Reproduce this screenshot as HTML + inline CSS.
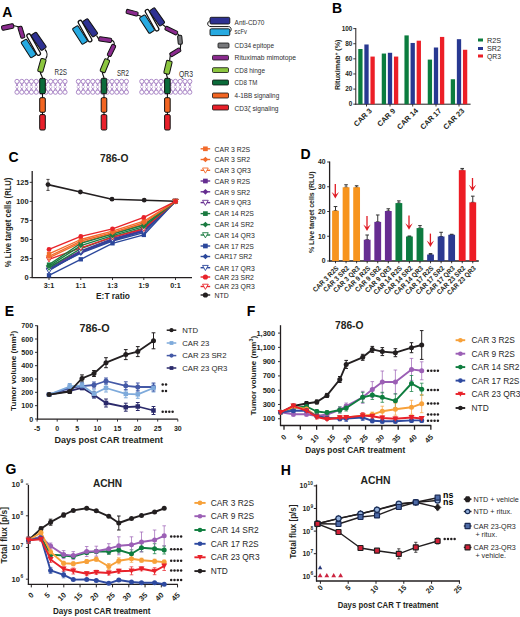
<!DOCTYPE html>
<html><head><meta charset="utf-8"><style>
html,body{margin:0;padding:0;background:#fff;}
svg{display:block;}
text{font-family:"Liberation Sans",sans-serif;}
</style></head><body>
<svg width="520" height="617" viewBox="0 0 520 617">
<rect width="520" height="617" fill="#fff"/>
<g fill="none" stroke="#a883c4" stroke-width="0.95"><circle cx="17" cy="81.4" r="2.1"/><path d="M15.8,83.4 L18.2,86.4 M18.2,83.4 L15.8,86.4"/><circle cx="17" cy="92.2" r="2.1"/><path d="M15.8,90.2 L18.2,87.4 M18.2,90.2 L15.8,87.4"/><circle cx="21.8" cy="81.4" r="2.1"/><path d="M20.6,83.4 L23,86.4 M23,83.4 L20.6,86.4"/><circle cx="21.8" cy="92.2" r="2.1"/><path d="M20.6,90.2 L23,87.4 M23,90.2 L20.6,87.4"/><circle cx="26.6" cy="81.4" r="2.1"/><path d="M25.4,83.4 L27.8,86.4 M27.8,83.4 L25.4,86.4"/><circle cx="26.6" cy="92.2" r="2.1"/><path d="M25.4,90.2 L27.8,87.4 M27.8,90.2 L25.4,87.4"/><circle cx="31.4" cy="81.4" r="2.1"/><path d="M30.2,83.4 L32.6,86.4 M32.6,83.4 L30.2,86.4"/><circle cx="31.4" cy="92.2" r="2.1"/><path d="M30.2,90.2 L32.6,87.4 M32.6,90.2 L30.2,87.4"/><circle cx="36.2" cy="81.4" r="2.1"/><path d="M35,83.4 L37.4,86.4 M37.4,83.4 L35,86.4"/><circle cx="36.2" cy="92.2" r="2.1"/><path d="M35,90.2 L37.4,87.4 M37.4,90.2 L35,87.4"/><circle cx="41" cy="81.4" r="2.1"/><path d="M39.8,83.4 L42.2,86.4 M42.2,83.4 L39.8,86.4"/><circle cx="41" cy="92.2" r="2.1"/><path d="M39.8,90.2 L42.2,87.4 M42.2,90.2 L39.8,87.4"/><circle cx="45.8" cy="81.4" r="2.1"/><path d="M44.6,83.4 L47,86.4 M47,83.4 L44.6,86.4"/><circle cx="45.8" cy="92.2" r="2.1"/><path d="M44.6,90.2 L47,87.4 M47,90.2 L44.6,87.4"/><circle cx="50.6" cy="81.4" r="2.1"/><path d="M49.4,83.4 L51.8,86.4 M51.8,83.4 L49.4,86.4"/><circle cx="50.6" cy="92.2" r="2.1"/><path d="M49.4,90.2 L51.8,87.4 M51.8,90.2 L49.4,87.4"/><circle cx="55.4" cy="81.4" r="2.1"/><path d="M54.2,83.4 L56.6,86.4 M56.6,83.4 L54.2,86.4"/><circle cx="55.4" cy="92.2" r="2.1"/><path d="M54.2,90.2 L56.6,87.4 M56.6,90.2 L54.2,87.4"/><circle cx="60.2" cy="81.4" r="2.1"/><path d="M59,83.4 L61.4,86.4 M61.4,83.4 L59,86.4"/><circle cx="60.2" cy="92.2" r="2.1"/><path d="M59,90.2 L61.4,87.4 M61.4,90.2 L59,87.4"/><circle cx="65" cy="81.4" r="2.1"/><path d="M63.8,83.4 L66.2,86.4 M66.2,83.4 L63.8,86.4"/><circle cx="65" cy="92.2" r="2.1"/><path d="M63.8,90.2 L66.2,87.4 M66.2,90.2 L63.8,87.4"/></g>
<g fill="none" stroke="#a883c4" stroke-width="0.95"><circle cx="78.4" cy="81.4" r="2.1"/><path d="M77.2,83.4 L79.6,86.4 M79.6,83.4 L77.2,86.4"/><circle cx="78.4" cy="92.2" r="2.1"/><path d="M77.2,90.2 L79.6,87.4 M79.6,90.2 L77.2,87.4"/><circle cx="83.2" cy="81.4" r="2.1"/><path d="M82,83.4 L84.4,86.4 M84.4,83.4 L82,86.4"/><circle cx="83.2" cy="92.2" r="2.1"/><path d="M82,90.2 L84.4,87.4 M84.4,90.2 L82,87.4"/><circle cx="88" cy="81.4" r="2.1"/><path d="M86.8,83.4 L89.2,86.4 M89.2,83.4 L86.8,86.4"/><circle cx="88" cy="92.2" r="2.1"/><path d="M86.8,90.2 L89.2,87.4 M89.2,90.2 L86.8,87.4"/><circle cx="92.8" cy="81.4" r="2.1"/><path d="M91.6,83.4 L94,86.4 M94,83.4 L91.6,86.4"/><circle cx="92.8" cy="92.2" r="2.1"/><path d="M91.6,90.2 L94,87.4 M94,90.2 L91.6,87.4"/><circle cx="97.6" cy="81.4" r="2.1"/><path d="M96.4,83.4 L98.8,86.4 M98.8,83.4 L96.4,86.4"/><circle cx="97.6" cy="92.2" r="2.1"/><path d="M96.4,90.2 L98.8,87.4 M98.8,90.2 L96.4,87.4"/><circle cx="102.4" cy="81.4" r="2.1"/><path d="M101.2,83.4 L103.6,86.4 M103.6,83.4 L101.2,86.4"/><circle cx="102.4" cy="92.2" r="2.1"/><path d="M101.2,90.2 L103.6,87.4 M103.6,90.2 L101.2,87.4"/><circle cx="107.2" cy="81.4" r="2.1"/><path d="M106,83.4 L108.4,86.4 M108.4,83.4 L106,86.4"/><circle cx="107.2" cy="92.2" r="2.1"/><path d="M106,90.2 L108.4,87.4 M108.4,90.2 L106,87.4"/><circle cx="112" cy="81.4" r="2.1"/><path d="M110.8,83.4 L113.2,86.4 M113.2,83.4 L110.8,86.4"/><circle cx="112" cy="92.2" r="2.1"/><path d="M110.8,90.2 L113.2,87.4 M113.2,90.2 L110.8,87.4"/><circle cx="116.8" cy="81.4" r="2.1"/><path d="M115.6,83.4 L118,86.4 M118,83.4 L115.6,86.4"/><circle cx="116.8" cy="92.2" r="2.1"/><path d="M115.6,90.2 L118,87.4 M118,90.2 L115.6,87.4"/><circle cx="121.6" cy="81.4" r="2.1"/><path d="M120.4,83.4 L122.8,86.4 M122.8,83.4 L120.4,86.4"/><circle cx="121.6" cy="92.2" r="2.1"/><path d="M120.4,90.2 L122.8,87.4 M122.8,90.2 L120.4,87.4"/><circle cx="126.4" cy="81.4" r="2.1"/><path d="M125.2,83.4 L127.6,86.4 M127.6,83.4 L125.2,86.4"/><circle cx="126.4" cy="92.2" r="2.1"/><path d="M125.2,90.2 L127.6,87.4 M127.6,90.2 L125.2,87.4"/></g>
<g fill="none" stroke="#a883c4" stroke-width="0.95"><circle cx="141.8" cy="81.4" r="2.1"/><path d="M140.6,83.4 L143,86.4 M143,83.4 L140.6,86.4"/><circle cx="141.8" cy="92.2" r="2.1"/><path d="M140.6,90.2 L143,87.4 M143,90.2 L140.6,87.4"/><circle cx="146.6" cy="81.4" r="2.1"/><path d="M145.4,83.4 L147.8,86.4 M147.8,83.4 L145.4,86.4"/><circle cx="146.6" cy="92.2" r="2.1"/><path d="M145.4,90.2 L147.8,87.4 M147.8,90.2 L145.4,87.4"/><circle cx="151.4" cy="81.4" r="2.1"/><path d="M150.2,83.4 L152.6,86.4 M152.6,83.4 L150.2,86.4"/><circle cx="151.4" cy="92.2" r="2.1"/><path d="M150.2,90.2 L152.6,87.4 M152.6,90.2 L150.2,87.4"/><circle cx="156.2" cy="81.4" r="2.1"/><path d="M155,83.4 L157.4,86.4 M157.4,83.4 L155,86.4"/><circle cx="156.2" cy="92.2" r="2.1"/><path d="M155,90.2 L157.4,87.4 M157.4,90.2 L155,87.4"/><circle cx="161" cy="81.4" r="2.1"/><path d="M159.8,83.4 L162.2,86.4 M162.2,83.4 L159.8,86.4"/><circle cx="161" cy="92.2" r="2.1"/><path d="M159.8,90.2 L162.2,87.4 M162.2,90.2 L159.8,87.4"/><circle cx="165.8" cy="81.4" r="2.1"/><path d="M164.6,83.4 L167,86.4 M167,83.4 L164.6,86.4"/><circle cx="165.8" cy="92.2" r="2.1"/><path d="M164.6,90.2 L167,87.4 M167,90.2 L164.6,87.4"/><circle cx="170.6" cy="81.4" r="2.1"/><path d="M169.4,83.4 L171.8,86.4 M171.8,83.4 L169.4,86.4"/><circle cx="170.6" cy="92.2" r="2.1"/><path d="M169.4,90.2 L171.8,87.4 M171.8,90.2 L169.4,87.4"/><circle cx="175.4" cy="81.4" r="2.1"/><path d="M174.2,83.4 L176.6,86.4 M176.6,83.4 L174.2,86.4"/><circle cx="175.4" cy="92.2" r="2.1"/><path d="M174.2,90.2 L176.6,87.4 M176.6,90.2 L174.2,87.4"/><circle cx="180.2" cy="81.4" r="2.1"/><path d="M179,83.4 L181.4,86.4 M181.4,83.4 L179,86.4"/><circle cx="180.2" cy="92.2" r="2.1"/><path d="M179,90.2 L181.4,87.4 M181.4,90.2 L179,87.4"/><circle cx="185" cy="81.4" r="2.1"/><path d="M183.8,83.4 L186.2,86.4 M186.2,83.4 L183.8,86.4"/><circle cx="185" cy="92.2" r="2.1"/><path d="M183.8,90.2 L186.2,87.4 M186.2,90.2 L183.8,87.4"/><circle cx="189.8" cy="81.4" r="2.1"/><path d="M188.6,83.4 L191,86.4 M191,83.4 L188.6,86.4"/><circle cx="189.8" cy="92.2" r="2.1"/><path d="M188.6,90.2 L191,87.4 M191,90.2 L188.6,87.4"/></g>
<path d="M13,25.5 L19.5,27 M45,49.5 C47.5,52 47.5,56 45.8,58.8 M40.2,71.4 C40.5,75 42.5,76 42.5,78.5" fill="none" stroke="#111" stroke-width="1.15"/>
<line x1="42.5" y1="78" x2="42.5" y2="122" stroke="#111" stroke-width="1.1"/>
<rect x="-7.7" y="-2.8" width="15.4" height="5.6" rx="1.3" fill="#0b6b3a" stroke="#111" stroke-width="1" transform="translate(42.5 86) rotate(90)"/>
<rect x="-7.3" y="-2.8" width="14.6" height="5.6" rx="1.3" fill="#f26522" stroke="#111" stroke-width="1" transform="translate(42.5 105) rotate(90)"/>
<rect x="-7.7" y="-2.8" width="15.4" height="5.6" rx="1.3" fill="#e8202a" stroke="#111" stroke-width="1" transform="translate(42.5 122.3) rotate(90)"/>
<rect x="-12" y="-1.9" width="24" height="3.8" rx="1.9" fill="#fff" stroke="#111" stroke-width="1.25" transform="translate(33.65 44.6) rotate(61)"/>
<rect x="-9.3" y="-3.3" width="18.6" height="6.6" rx="1.3" fill="#27aae1" stroke="#111" stroke-width="1" transform="translate(28.6 48.5) rotate(57)"/>
<rect x="-9.3" y="-3.2" width="18.6" height="6.4" rx="1.3" fill="#2e3192" stroke="#111" stroke-width="1" transform="translate(38.7 41.3) rotate(55)"/>
<rect x="-6.1" y="-2.2" width="12.2" height="4.4" rx="1.3" fill="#8a2a8e" stroke="#111" stroke-width="1" transform="translate(7.7 27) rotate(-12)"/>
<rect x="-6" y="-2.1" width="12" height="4.2" rx="1.3" fill="#8a2a8e" stroke="#111" stroke-width="1" transform="translate(21.4 32.2) rotate(73)"/>
<rect x="-6.7" y="-2.7" width="13.4" height="5.4" rx="1.3" fill="#8cc63f" stroke="#111" stroke-width="1" transform="translate(41.9 65.4) rotate(-74)"/>
<path d="M96.5,35.5 L98.6,39 M111.8,40.3 C113.5,41 114.5,43 114.2,44.8 M108.8,56 L107.5,59.4 M102.3,72 C102.5,75 104,76 104,78.5" fill="none" stroke="#111" stroke-width="1.15"/>
<line x1="104" y1="78" x2="104" y2="122" stroke="#111" stroke-width="1.1"/>
<rect x="-7.7" y="-2.8" width="15.4" height="5.6" rx="1.3" fill="#0b6b3a" stroke="#111" stroke-width="1" transform="translate(104 86) rotate(90)"/>
<rect x="-7.3" y="-2.8" width="14.6" height="5.6" rx="1.3" fill="#f26522" stroke="#111" stroke-width="1" transform="translate(104 105) rotate(90)"/>
<rect x="-7.7" y="-2.8" width="15.4" height="5.6" rx="1.3" fill="#e8202a" stroke="#111" stroke-width="1" transform="translate(104 122.3) rotate(90)"/>
<rect x="-12" y="-1.9" width="24" height="3.8" rx="1.9" fill="#fff" stroke="#111" stroke-width="1.25" transform="translate(85.05 31.1) rotate(61)"/>
<rect x="-9.3" y="-3.3" width="18.6" height="6.6" rx="1.3" fill="#27aae1" stroke="#111" stroke-width="1" transform="translate(80 35) rotate(57)"/>
<rect x="-9.3" y="-3.2" width="18.6" height="6.4" rx="1.3" fill="#2e3192" stroke="#111" stroke-width="1" transform="translate(90.1 27.8) rotate(55)"/>
<rect x="-6.5" y="-2.1" width="13" height="4.2" rx="1.3" fill="#8a2a8e" stroke="#111" stroke-width="1" transform="translate(105.2 39.6) rotate(8)"/>
<rect x="-6.2" y="-2.1" width="12.4" height="4.2" rx="1.3" fill="#8a2a8e" stroke="#111" stroke-width="1" transform="translate(111.5 50.4) rotate(-64)"/>
<rect x="-6.8" y="-2.7" width="13.6" height="5.4" rx="1.3" fill="#8cc63f" stroke="#111" stroke-width="1" transform="translate(104.9 65.7) rotate(-67.6)"/>
<path d="M137.5,15 L141.6,16.5 M162.3,24.4 L165.5,26.8 M177.5,33.6 L179.2,35.5 M180.7,44.3 L180.3,49.2 M170.3,55.4 L169.6,60.8 M166.5,73.8 C166.5,76 167.4,76.5 167.4,78.5" fill="none" stroke="#111" stroke-width="1.15"/>
<line x1="167.4" y1="78" x2="167.4" y2="122" stroke="#111" stroke-width="1.1"/>
<rect x="-7.7" y="-2.8" width="15.4" height="5.6" rx="1.3" fill="#0b6b3a" stroke="#111" stroke-width="1" transform="translate(167.4 86) rotate(90)"/>
<rect x="-7.3" y="-2.8" width="14.6" height="5.6" rx="1.3" fill="#f26522" stroke="#111" stroke-width="1" transform="translate(167.4 105) rotate(90)"/>
<rect x="-7.7" y="-2.8" width="15.4" height="5.6" rx="1.3" fill="#e8202a" stroke="#111" stroke-width="1" transform="translate(167.4 122.3) rotate(90)"/>
<rect x="-12" y="-1.9" width="24" height="3.8" rx="1.9" fill="#fff" stroke="#111" stroke-width="1.25" transform="translate(152.05 20.2) rotate(61)"/>
<rect x="-9.3" y="-3.3" width="18.6" height="6.6" rx="1.3" fill="#27aae1" stroke="#111" stroke-width="1" transform="translate(147 24.1) rotate(57)"/>
<rect x="-9.3" y="-3.2" width="18.6" height="6.4" rx="1.3" fill="#2e3192" stroke="#111" stroke-width="1" transform="translate(157.1 16.9) rotate(55)"/>
<rect x="-6" y="-2.1" width="12" height="4.2" rx="1.3" fill="#8a2a8e" stroke="#111" stroke-width="1" transform="translate(132.1 12.7) rotate(15)"/>
<rect x="-6.65" y="-2" width="13.3" height="4" rx="1.3" fill="#8a2a8e" stroke="#111" stroke-width="1" transform="translate(171.3 30.6) rotate(25.8)"/>
<rect x="-4.5" y="-2.1" width="9" height="4.2" rx="1.3" fill="#77787b" stroke="#111" stroke-width="1" transform="translate(180 39.8) rotate(85)"/>
<rect x="-5.9" y="-2" width="11.8" height="4" rx="1.3" fill="#8a2a8e" stroke="#111" stroke-width="1" transform="translate(175.3 52.3) rotate(-32)"/>
<rect x="-6.7" y="-2.9" width="13.4" height="5.8" rx="1.3" fill="#8cc63f" stroke="#111" stroke-width="1" transform="translate(168 67.3) rotate(-76.6)"/>
<text x="2.3" y="17" font-size="14" fill="#000" font-weight="bold" >A</text>
<text x="54.6" y="75" font-size="8.2" fill="#2e2e30" textLength="12.4" lengthAdjust="spacingAndGlyphs" >R2S</text>
<text x="117" y="76" font-size="8.2" fill="#2e2e30" textLength="12" lengthAdjust="spacingAndGlyphs" >SR2</text>
<text x="179" y="77" font-size="8.2" fill="#2e2e30" textLength="14" lengthAdjust="spacingAndGlyphs" >QR3</text>
<path d="M211.5,20.6 C206.5,20.6 206.5,26.6 211,26.6 L228.5,26.6 C232,26.6 232,32.2 228.5,32.2" fill="none" stroke="#111" stroke-width="1"/>
<rect x="210" y="17.3" width="19.8" height="6.7" fill="#2e3192" stroke="#111" stroke-width="0.9" rx="1.3"/>
<rect x="210" y="28.8" width="19.8" height="6.8" fill="#27aae1" stroke="#111" stroke-width="0.9" rx="1.3"/>
<rect x="218" y="43" width="11" height="5" fill="#77787b" stroke="#111" stroke-width="0.8" rx="1"/>
<rect x="212.5" y="55.4" width="16" height="4.6" fill="#8a2a8e" stroke="#111" stroke-width="0.8" rx="1"/>
<rect x="212.5" y="67.7" width="16" height="4.8" fill="#8cc63f" stroke="#111" stroke-width="0.8" rx="1"/>
<rect x="212.5" y="80" width="16" height="5" fill="#0b6b3a" stroke="#111" stroke-width="0.8" rx="1"/>
<rect x="212.5" y="93" width="16" height="5" fill="#f26522" stroke="#111" stroke-width="0.8" rx="1"/>
<rect x="212.5" y="105" width="16" height="5" fill="#e8202a" stroke="#111" stroke-width="0.8" rx="1"/>
<text x="234.6" y="25" font-size="7.8" fill="#2e2e30" textLength="29.8" lengthAdjust="spacingAndGlyphs" >Anti-CD70</text>
<text x="234.6" y="33.6" font-size="7.8" fill="#2e2e30" textLength="12.4" lengthAdjust="spacingAndGlyphs" >scFv</text>
<text x="234.6" y="48" font-size="7.8" fill="#2e2e30" textLength="39.4" lengthAdjust="spacingAndGlyphs" >CD34 epitope</text>
<text x="234.6" y="60" font-size="7.8" fill="#2e2e30" textLength="61.4" lengthAdjust="spacingAndGlyphs" >Rituximab mimotope</text>
<text x="234.6" y="72.5" font-size="7.8" fill="#2e2e30" textLength="30.4" lengthAdjust="spacingAndGlyphs" >CD8 hinge</text>
<text x="234.6" y="85.2" font-size="7.8" fill="#2e2e30" textLength="22.7" lengthAdjust="spacingAndGlyphs" >CD8 TM</text>
<text x="234.6" y="98" font-size="7.8" fill="#2e2e30" textLength="44.6" lengthAdjust="spacingAndGlyphs" >4-1BB signaling</text>
<text x="234.6" y="110.5" font-size="7.8" fill="#2e2e30" textLength="43.9" lengthAdjust="spacingAndGlyphs" >CD3&#950; signaling</text>
<text x="332" y="12.5" font-size="14" fill="#000" font-weight="bold" >B</text>
<line x1="355.8" y1="28" x2="355.8" y2="104.6" stroke="#231f20" stroke-width="1"/>
<line x1="355.3" y1="104.2" x2="470.6" y2="104.2" stroke="#231f20" stroke-width="1"/>
<line x1="353.3" y1="104.2" x2="355.8" y2="104.2" stroke="#231f20" stroke-width="0.9"/>
<text x="352.4" y="106.4" font-size="6.4" fill="#231f20" font-weight="bold" text-anchor="end" >0</text>
<line x1="353.3" y1="89.08" x2="355.8" y2="89.08" stroke="#231f20" stroke-width="0.9"/>
<text x="352.4" y="91.28" font-size="6.4" fill="#231f20" font-weight="bold" text-anchor="end" >20</text>
<line x1="353.3" y1="73.96" x2="355.8" y2="73.96" stroke="#231f20" stroke-width="0.9"/>
<text x="352.4" y="76.16" font-size="6.4" fill="#231f20" font-weight="bold" text-anchor="end" >40</text>
<line x1="353.3" y1="58.84" x2="355.8" y2="58.84" stroke="#231f20" stroke-width="0.9"/>
<text x="352.4" y="61.04" font-size="6.4" fill="#231f20" font-weight="bold" text-anchor="end" >60</text>
<line x1="353.3" y1="43.72" x2="355.8" y2="43.72" stroke="#231f20" stroke-width="0.9"/>
<text x="352.4" y="45.92" font-size="6.4" fill="#231f20" font-weight="bold" text-anchor="end" >80</text>
<line x1="353.3" y1="28.6" x2="355.8" y2="28.6" stroke="#231f20" stroke-width="0.9"/>
<text x="352.4" y="30.8" font-size="6.4" fill="#231f20" font-weight="bold" text-anchor="end" >100</text>
<text x="340.3" y="64.8" font-size="7.2" fill="#231f20" font-weight="bold" text-anchor="middle" transform="rotate(-90 340.3 64.8)" >Rituximab<tspan dy="-2.5" font-size="4.5">+</tspan><tspan dy="2.5"> (%)</tspan></text>
<rect x="358.25" y="49.01" width="4.3" height="55.19" fill="#0b7c3e" stroke="none" stroke-width="0" rx="0"/>
<rect x="364.35" y="44.48" width="4.3" height="59.72" fill="#283891" stroke="none" stroke-width="0" rx="0"/>
<rect x="370.45" y="56.57" width="4.3" height="47.63" fill="#ec1f27" stroke="none" stroke-width="0" rx="0"/>
<line x1="366.5" y1="104.2" x2="366.5" y2="106.5" stroke="#231f20" stroke-width="0.9"/>
<text x="372.4" y="111.3" font-size="7.4" fill="#231f20" font-weight="bold" text-anchor="end" transform="rotate(-45 372.4 111.3)" >CAR 3</text>
<rect x="381.75" y="53.55" width="4.3" height="50.65" fill="#0b7c3e" stroke="none" stroke-width="0" rx="0"/>
<rect x="387.85" y="52.79" width="4.3" height="51.41" fill="#283891" stroke="none" stroke-width="0" rx="0"/>
<rect x="393.95" y="56.57" width="4.3" height="47.63" fill="#ec1f27" stroke="none" stroke-width="0" rx="0"/>
<line x1="390" y1="104.2" x2="390" y2="106.5" stroke="#231f20" stroke-width="0.9"/>
<text x="395.9" y="111.3" font-size="7.4" fill="#231f20" font-weight="bold" text-anchor="end" transform="rotate(-45 395.9 111.3)" >CAR 9</text>
<rect x="404.45" y="35.4" width="4.3" height="68.8" fill="#0b7c3e" stroke="none" stroke-width="0" rx="0"/>
<rect x="410.55" y="42.96" width="4.3" height="61.24" fill="#283891" stroke="none" stroke-width="0" rx="0"/>
<rect x="416.65" y="40.7" width="4.3" height="63.5" fill="#ec1f27" stroke="none" stroke-width="0" rx="0"/>
<line x1="412.7" y1="104.2" x2="412.7" y2="106.5" stroke="#231f20" stroke-width="0.9"/>
<text x="418.6" y="111.3" font-size="7.4" fill="#231f20" font-weight="bold" text-anchor="end" transform="rotate(-45 418.6 111.3)" >CAR 14</text>
<rect x="427.75" y="59.6" width="4.3" height="44.6" fill="#0b7c3e" stroke="none" stroke-width="0" rx="0"/>
<rect x="433.85" y="47.5" width="4.3" height="56.7" fill="#283891" stroke="none" stroke-width="0" rx="0"/>
<rect x="439.95" y="36.92" width="4.3" height="67.28" fill="#ec1f27" stroke="none" stroke-width="0" rx="0"/>
<line x1="436" y1="104.2" x2="436" y2="106.5" stroke="#231f20" stroke-width="0.9"/>
<text x="441.9" y="111.3" font-size="7.4" fill="#231f20" font-weight="bold" text-anchor="end" transform="rotate(-45 441.9 111.3)" >CAR 17</text>
<rect x="450.75" y="79.25" width="4.3" height="24.95" fill="#0b7c3e" stroke="none" stroke-width="0" rx="0"/>
<rect x="456.85" y="39.18" width="4.3" height="65.02" fill="#283891" stroke="none" stroke-width="0" rx="0"/>
<rect x="462.95" y="49.77" width="4.3" height="54.43" fill="#ec1f27" stroke="none" stroke-width="0" rx="0"/>
<line x1="459" y1="104.2" x2="459" y2="106.5" stroke="#231f20" stroke-width="0.9"/>
<text x="464.9" y="111.3" font-size="7.4" fill="#231f20" font-weight="bold" text-anchor="end" transform="rotate(-45 464.9 111.3)" >CAR 23</text>
<rect x="478" y="38.5" width="5" height="3" fill="#0b7c3e" stroke="none" stroke-width="0" rx="0"/>
<text x="487" y="42.5" font-size="7.4" fill="#282828" textLength="14" lengthAdjust="spacingAndGlyphs" >R2S</text>
<rect x="478" y="47" width="5" height="3" fill="#283891" stroke="none" stroke-width="0" rx="0"/>
<text x="487" y="51" font-size="7.4" fill="#282828" textLength="14" lengthAdjust="spacingAndGlyphs" >SR2</text>
<rect x="478" y="54.5" width="5" height="3" fill="#ec1f27" stroke="none" stroke-width="0" rx="0"/>
<text x="487" y="58.5" font-size="7.4" fill="#282828" textLength="14" lengthAdjust="spacingAndGlyphs" >QR3</text>
<text x="8.6" y="162" font-size="14" fill="#000" font-weight="bold" >C</text>
<text x="100" y="161.5" font-size="10.4" fill="#231f20" font-weight="bold" textLength="28.5" lengthAdjust="spacingAndGlyphs" >786-O</text>
<line x1="32.2" y1="171" x2="32.2" y2="278.1" stroke="#231f20" stroke-width="1.3"/>
<line x1="31.7" y1="277.6" x2="192" y2="277.6" stroke="#231f20" stroke-width="1.3"/>
<line x1="29.7" y1="277.6" x2="32.2" y2="277.6" stroke="#231f20" stroke-width="0.9"/>
<text x="28.6" y="280.2" font-size="7.4" fill="#231f20" font-weight="bold" text-anchor="end" >0</text>
<line x1="29.7" y1="258.55" x2="32.2" y2="258.55" stroke="#231f20" stroke-width="0.9"/>
<text x="28.6" y="261.15" font-size="7.4" fill="#231f20" font-weight="bold" text-anchor="end" >25</text>
<line x1="29.7" y1="239.5" x2="32.2" y2="239.5" stroke="#231f20" stroke-width="0.9"/>
<text x="28.6" y="242.1" font-size="7.4" fill="#231f20" font-weight="bold" text-anchor="end" >50</text>
<line x1="29.7" y1="220.45" x2="32.2" y2="220.45" stroke="#231f20" stroke-width="0.9"/>
<text x="28.6" y="223.05" font-size="7.4" fill="#231f20" font-weight="bold" text-anchor="end" >75</text>
<line x1="29.7" y1="201.4" x2="32.2" y2="201.4" stroke="#231f20" stroke-width="0.9"/>
<text x="28.6" y="204" font-size="7.4" fill="#231f20" font-weight="bold" text-anchor="end" >100</text>
<line x1="29.7" y1="182.35" x2="32.2" y2="182.35" stroke="#231f20" stroke-width="0.9"/>
<text x="28.6" y="184.95" font-size="7.4" fill="#231f20" font-weight="bold" text-anchor="end" >125</text>
<line x1="49" y1="277.6" x2="49" y2="280" stroke="#231f20" stroke-width="0.9"/>
<text x="49" y="288" font-size="7.2" fill="#231f20" font-weight="bold" text-anchor="middle" >3:1</text>
<line x1="80.8" y1="277.6" x2="80.8" y2="280" stroke="#231f20" stroke-width="0.9"/>
<text x="80.8" y="288" font-size="7.2" fill="#231f20" font-weight="bold" text-anchor="middle" >1:1</text>
<line x1="112.5" y1="277.6" x2="112.5" y2="280" stroke="#231f20" stroke-width="0.9"/>
<text x="112.5" y="288" font-size="7.2" fill="#231f20" font-weight="bold" text-anchor="middle" >1:3</text>
<line x1="143.8" y1="277.6" x2="143.8" y2="280" stroke="#231f20" stroke-width="0.9"/>
<text x="143.8" y="288" font-size="7.2" fill="#231f20" font-weight="bold" text-anchor="middle" >1:9</text>
<line x1="175.5" y1="277.6" x2="175.5" y2="280" stroke="#231f20" stroke-width="0.9"/>
<text x="175.5" y="288" font-size="7.2" fill="#231f20" font-weight="bold" text-anchor="middle" >0:1</text>
<text x="113" y="298.5" font-size="8.6" fill="#231f20" font-weight="bold" text-anchor="middle" textLength="34" lengthAdjust="spacingAndGlyphs" >E:T ratio</text>
<text x="10.9" y="222.4" font-size="8.2" fill="#231f20" font-weight="bold" text-anchor="middle" textLength="89.6" lengthAdjust="spacingAndGlyphs" transform="rotate(-90 10.9 222.4)" >% Live target cells (RLU)</text>
<path d="M48,179.4V190.4M46.4,179.4H49.6M46.4,190.4H49.6" stroke="#231f20" stroke-width="0.8" fill="none"/>
<polyline points="48,184.6 80.4,192 112,199.2 144.2,200.2 175.6,201.2" fill="none" stroke="#231f20" stroke-width="1.6" stroke-linejoin="round"/>
<circle cx="48" cy="184.6" r="2.4" fill="#231f20"/>
<circle cx="80.4" cy="192" r="2.4" fill="#231f20"/>
<circle cx="112" cy="199.2" r="2.4" fill="#231f20"/>
<circle cx="144.2" cy="200.2" r="2.4" fill="#231f20"/>
<circle cx="175.6" cy="201.2" r="2.4" fill="#231f20"/>
<polyline points="49,275.31 80.8,259.31 112.5,243.31 143.8,234.93 175.5,201.4" fill="none" stroke="#2b479b" stroke-width="1.35" stroke-linejoin="round"/>
<polyline points="49,269.98 80.8,252.45 112.5,240.26 143.8,231.12 175.5,201.4" fill="none" stroke="#652d90" stroke-width="1.35" stroke-linejoin="round"/>
<polyline points="49,268.46 80.8,251.69 112.5,239.5 143.8,230.36 175.5,201.4" fill="none" stroke="#652d90" stroke-width="1.35" stroke-linejoin="round"/>
<polyline points="49,269.22 80.8,253.22 112.5,241.02 143.8,232.64 175.5,201.4" fill="none" stroke="#2b479b" stroke-width="1.35" stroke-linejoin="round"/>
<polyline points="49,266.93 80.8,250.93 112.5,238.74 143.8,229.59 175.5,201.4" fill="none" stroke="#652d90" stroke-width="1.35" stroke-linejoin="round"/>
<polyline points="49,270.74 80.8,251.69 112.5,239.5 143.8,231.12 175.5,201.4" fill="none" stroke="#2b479b" stroke-width="1.35" stroke-linejoin="round"/>
<polyline points="49,267.69 80.8,248.64 112.5,237.21 143.8,228.07 175.5,201.4" fill="none" stroke="#1a7a40" stroke-width="1.35" stroke-linejoin="round"/>
<polyline points="49,259.31 80.8,247.88 112.5,237.21 143.8,228.83 175.5,201.4" fill="none" stroke="#e8232a" stroke-width="1.35" stroke-linejoin="round"/>
<polyline points="49,266.17 80.8,245.6 112.5,235.69 143.8,226.55 175.5,201.4" fill="none" stroke="#1a7a40" stroke-width="1.35" stroke-linejoin="round"/>
<polyline points="49,257.79 80.8,242.55 112.5,233.4 143.8,224.26 175.5,201.4" fill="none" stroke="#f26a2b" stroke-width="1.35" stroke-linejoin="round"/>
<polyline points="49,264.65 80.8,243.31 112.5,234.17 143.8,225.02 175.5,201.4" fill="none" stroke="#1a7a40" stroke-width="1.35" stroke-linejoin="round"/>
<polyline points="49,256.26 80.8,241.02 112.5,232.64 143.8,222.74 175.5,201.4" fill="none" stroke="#f26a2b" stroke-width="1.35" stroke-linejoin="round"/>
<polyline points="49,253.98 80.8,239.5 112.5,231.12 143.8,221.21 175.5,201.4" fill="none" stroke="#f26a2b" stroke-width="1.35" stroke-linejoin="round"/>
<polyline points="49,249.41 80.8,236.45 112.5,228.83 143.8,217.4 175.5,201.4" fill="none" stroke="#e8232a" stroke-width="1.35" stroke-linejoin="round"/>
<rect x="46.84" y="273.15" width="4.32" height="4.32" fill="#2b479b"/>
<rect x="78.64" y="257.15" width="4.32" height="4.32" fill="#2b479b"/>
<rect x="110.34" y="241.15" width="4.32" height="4.32" fill="#2b479b"/>
<rect x="141.64" y="232.77" width="4.32" height="4.32" fill="#2b479b"/>
<rect x="173.34" y="199.24" width="4.32" height="4.32" fill="#2b479b"/>
<path d="M46.36,267.87 L51.64,267.87 L49,272.62Z" fill="#fff" stroke="#652d90" stroke-width="0.9"/>
<path d="M78.16,250.34 L83.44,250.34 L80.8,255.09Z" fill="#fff" stroke="#652d90" stroke-width="0.9"/>
<path d="M109.86,238.15 L115.14,238.15 L112.5,242.9Z" fill="#fff" stroke="#652d90" stroke-width="0.9"/>
<path d="M141.16,229.01 L146.44,229.01 L143.8,233.76Z" fill="#fff" stroke="#652d90" stroke-width="0.9"/>
<path d="M172.86,199.29 L178.14,199.29 L175.5,204.04Z" fill="#fff" stroke="#652d90" stroke-width="0.9"/>
<path d="M49,265.82 L51.64,268.46 L49,271.1 L46.36,268.46Z" fill="#652d90"/>
<path d="M80.8,249.05 L83.44,251.69 L80.8,254.33 L78.16,251.69Z" fill="#652d90"/>
<path d="M112.5,236.86 L115.14,239.5 L112.5,242.14 L109.86,239.5Z" fill="#652d90"/>
<path d="M143.8,227.72 L146.44,230.36 L143.8,233 L141.16,230.36Z" fill="#652d90"/>
<path d="M175.5,198.76 L178.14,201.4 L175.5,204.04 L172.86,201.4Z" fill="#652d90"/>
<path d="M49,266.58 L51.64,269.22 L49,271.86 L46.36,269.22Z" fill="#2b479b"/>
<path d="M80.8,250.58 L83.44,253.22 L80.8,255.86 L78.16,253.22Z" fill="#2b479b"/>
<path d="M112.5,238.38 L115.14,241.02 L112.5,243.66 L109.86,241.02Z" fill="#2b479b"/>
<path d="M143.8,230 L146.44,232.64 L143.8,235.28 L141.16,232.64Z" fill="#2b479b"/>
<path d="M175.5,198.76 L178.14,201.4 L175.5,204.04 L172.86,201.4Z" fill="#2b479b"/>
<rect x="46.84" y="264.77" width="4.32" height="4.32" fill="#652d90"/>
<rect x="78.64" y="248.77" width="4.32" height="4.32" fill="#652d90"/>
<rect x="110.34" y="236.58" width="4.32" height="4.32" fill="#652d90"/>
<rect x="141.64" y="227.43" width="4.32" height="4.32" fill="#652d90"/>
<rect x="173.34" y="199.24" width="4.32" height="4.32" fill="#652d90"/>
<path d="M46.36,268.63 L51.64,268.63 L49,273.38Z" fill="#fff" stroke="#2b479b" stroke-width="0.9"/>
<path d="M78.16,249.58 L83.44,249.58 L80.8,254.33Z" fill="#fff" stroke="#2b479b" stroke-width="0.9"/>
<path d="M109.86,237.39 L115.14,237.39 L112.5,242.14Z" fill="#fff" stroke="#2b479b" stroke-width="0.9"/>
<path d="M141.16,229.01 L146.44,229.01 L143.8,233.76Z" fill="#fff" stroke="#2b479b" stroke-width="0.9"/>
<path d="M172.86,199.29 L178.14,199.29 L175.5,204.04Z" fill="#fff" stroke="#2b479b" stroke-width="0.9"/>
<path d="M46.36,265.58 L51.64,265.58 L49,270.33Z" fill="#fff" stroke="#1a7a40" stroke-width="0.9"/>
<path d="M78.16,246.53 L83.44,246.53 L80.8,251.28Z" fill="#fff" stroke="#1a7a40" stroke-width="0.9"/>
<path d="M109.86,235.1 L115.14,235.1 L112.5,239.85Z" fill="#fff" stroke="#1a7a40" stroke-width="0.9"/>
<path d="M141.16,225.96 L146.44,225.96 L143.8,230.71Z" fill="#fff" stroke="#1a7a40" stroke-width="0.9"/>
<path d="M172.86,199.29 L178.14,199.29 L175.5,204.04Z" fill="#fff" stroke="#1a7a40" stroke-width="0.9"/>
<path d="M46.36,257.2 L51.64,257.2 L49,261.95Z" fill="#fff" stroke="#e8232a" stroke-width="0.9"/>
<path d="M78.16,245.77 L83.44,245.77 L80.8,250.52Z" fill="#fff" stroke="#e8232a" stroke-width="0.9"/>
<path d="M109.86,235.1 L115.14,235.1 L112.5,239.85Z" fill="#fff" stroke="#e8232a" stroke-width="0.9"/>
<path d="M141.16,226.72 L146.44,226.72 L143.8,231.47Z" fill="#fff" stroke="#e8232a" stroke-width="0.9"/>
<path d="M172.86,199.29 L178.14,199.29 L175.5,204.04Z" fill="#fff" stroke="#e8232a" stroke-width="0.9"/>
<path d="M49,263.53 L51.64,266.17 L49,268.81 L46.36,266.17Z" fill="#1a7a40"/>
<path d="M80.8,242.96 L83.44,245.6 L80.8,248.24 L78.16,245.6Z" fill="#1a7a40"/>
<path d="M112.5,233.05 L115.14,235.69 L112.5,238.33 L109.86,235.69Z" fill="#1a7a40"/>
<path d="M143.8,223.91 L146.44,226.55 L143.8,229.19 L141.16,226.55Z" fill="#1a7a40"/>
<path d="M175.5,198.76 L178.14,201.4 L175.5,204.04 L172.86,201.4Z" fill="#1a7a40"/>
<path d="M46.36,255.68 L51.64,255.68 L49,260.43Z" fill="#fff" stroke="#f26a2b" stroke-width="0.9"/>
<path d="M78.16,240.44 L83.44,240.44 L80.8,245.19Z" fill="#fff" stroke="#f26a2b" stroke-width="0.9"/>
<path d="M109.86,231.29 L115.14,231.29 L112.5,236.04Z" fill="#fff" stroke="#f26a2b" stroke-width="0.9"/>
<path d="M141.16,222.15 L146.44,222.15 L143.8,226.9Z" fill="#fff" stroke="#f26a2b" stroke-width="0.9"/>
<path d="M172.86,199.29 L178.14,199.29 L175.5,204.04Z" fill="#fff" stroke="#f26a2b" stroke-width="0.9"/>
<rect x="46.84" y="262.49" width="4.32" height="4.32" fill="#1a7a40"/>
<rect x="78.64" y="241.15" width="4.32" height="4.32" fill="#1a7a40"/>
<rect x="110.34" y="232.01" width="4.32" height="4.32" fill="#1a7a40"/>
<rect x="141.64" y="222.86" width="4.32" height="4.32" fill="#1a7a40"/>
<rect x="173.34" y="199.24" width="4.32" height="4.32" fill="#1a7a40"/>
<path d="M49,253.62 L51.64,256.26 L49,258.9 L46.36,256.26Z" fill="#f26a2b"/>
<path d="M80.8,238.38 L83.44,241.02 L80.8,243.66 L78.16,241.02Z" fill="#f26a2b"/>
<path d="M112.5,230 L115.14,232.64 L112.5,235.28 L109.86,232.64Z" fill="#f26a2b"/>
<path d="M143.8,220.1 L146.44,222.74 L143.8,225.38 L141.16,222.74Z" fill="#f26a2b"/>
<path d="M175.5,198.76 L178.14,201.4 L175.5,204.04 L172.86,201.4Z" fill="#f26a2b"/>
<rect x="46.84" y="251.82" width="4.32" height="4.32" fill="#f26a2b"/>
<rect x="78.64" y="237.34" width="4.32" height="4.32" fill="#f26a2b"/>
<rect x="110.34" y="228.96" width="4.32" height="4.32" fill="#f26a2b"/>
<rect x="141.64" y="219.05" width="4.32" height="4.32" fill="#f26a2b"/>
<rect x="173.34" y="199.24" width="4.32" height="4.32" fill="#f26a2b"/>
<circle cx="49" cy="249.41" r="2.4" fill="#e8232a"/>
<circle cx="80.8" cy="236.45" r="2.4" fill="#e8232a"/>
<circle cx="112.5" cy="228.83" r="2.4" fill="#e8232a"/>
<circle cx="143.8" cy="217.4" r="2.4" fill="#e8232a"/>
<circle cx="175.5" cy="201.4" r="2.4" fill="#e8232a"/>
<line x1="200.6" y1="148.8" x2="210.2" y2="148.8" stroke="#f26a2b" stroke-width="1.4"/>
<rect x="203.06" y="146.46" width="4.68" height="4.68" fill="#f26a2b"/>
<text x="214.6" y="151.6" font-size="7.9" fill="#282828" textLength="35.52" lengthAdjust="spacingAndGlyphs" >CAR 3 R2S</text>
<line x1="200.6" y1="159.5" x2="210.2" y2="159.5" stroke="#f26a2b" stroke-width="1.4"/>
<path d="M205.4,156.64 L208.26,159.5 L205.4,162.36 L202.54,159.5Z" fill="#f26a2b"/>
<text x="214.6" y="162.3" font-size="7.9" fill="#282828" textLength="35.52" lengthAdjust="spacingAndGlyphs" >CAR 3 SR2</text>
<line x1="200.6" y1="170.3" x2="210.2" y2="170.3" stroke="#f26a2b" stroke-width="1.4"/>
<path d="M202.54,168.01 L208.26,168.01 L205.4,173.16Z" fill="#fff" stroke="#f26a2b" stroke-width="0.9"/>
<text x="214.6" y="173.1" font-size="7.9" fill="#282828" textLength="36.28" lengthAdjust="spacingAndGlyphs" >CAR 3 QR3</text>
<line x1="200.6" y1="181" x2="210.2" y2="181" stroke="#652d90" stroke-width="1.4"/>
<rect x="203.06" y="178.66" width="4.68" height="4.68" fill="#652d90"/>
<text x="214.6" y="183.8" font-size="7.9" fill="#282828" textLength="35.52" lengthAdjust="spacingAndGlyphs" >CAR 9 R2S</text>
<line x1="200.6" y1="191.8" x2="210.2" y2="191.8" stroke="#652d90" stroke-width="1.4"/>
<path d="M205.4,188.94 L208.26,191.8 L205.4,194.66 L202.54,191.8Z" fill="#652d90"/>
<text x="214.6" y="194.6" font-size="7.9" fill="#282828" textLength="35.52" lengthAdjust="spacingAndGlyphs" >CAR 9 SR2</text>
<line x1="200.6" y1="202.6" x2="210.2" y2="202.6" stroke="#652d90" stroke-width="1.4"/>
<path d="M202.54,200.31 L208.26,200.31 L205.4,205.46Z" fill="#fff" stroke="#652d90" stroke-width="0.9"/>
<text x="214.6" y="205.4" font-size="7.9" fill="#282828" textLength="36.28" lengthAdjust="spacingAndGlyphs" >CAR 9 QR3</text>
<line x1="200.6" y1="213.6" x2="210.2" y2="213.6" stroke="#1a7a40" stroke-width="1.4"/>
<rect x="203.06" y="211.26" width="4.68" height="4.68" fill="#1a7a40"/>
<text x="214.6" y="216.4" font-size="7.9" fill="#282828" textLength="39.35" lengthAdjust="spacingAndGlyphs" >CAR 14 R2S</text>
<line x1="200.6" y1="224.6" x2="210.2" y2="224.6" stroke="#1a7a40" stroke-width="1.4"/>
<path d="M205.4,221.74 L208.26,224.6 L205.4,227.46 L202.54,224.6Z" fill="#1a7a40"/>
<text x="214.6" y="227.4" font-size="7.9" fill="#282828" textLength="39.35" lengthAdjust="spacingAndGlyphs" >CAR 14 SR2</text>
<line x1="200.6" y1="235" x2="210.2" y2="235" stroke="#1a7a40" stroke-width="1.4"/>
<path d="M202.54,232.71 L208.26,232.71 L205.4,237.86Z" fill="#fff" stroke="#1a7a40" stroke-width="0.9"/>
<text x="214.6" y="237.8" font-size="7.9" fill="#282828" textLength="40.11" lengthAdjust="spacingAndGlyphs" >CAR 14 QR3</text>
<line x1="200.6" y1="246" x2="210.2" y2="246" stroke="#2b479b" stroke-width="1.4"/>
<rect x="203.06" y="243.66" width="4.68" height="4.68" fill="#2b479b"/>
<text x="214.6" y="248.8" font-size="7.9" fill="#282828" textLength="39.35" lengthAdjust="spacingAndGlyphs" >CAR 17 R2S</text>
<line x1="200.6" y1="256.5" x2="210.2" y2="256.5" stroke="#2b479b" stroke-width="1.4"/>
<path d="M205.4,253.64 L208.26,256.5 L205.4,259.36 L202.54,256.5Z" fill="#2b479b"/>
<text x="214.6" y="259.3" font-size="7.9" fill="#282828" textLength="37.44" lengthAdjust="spacingAndGlyphs" >CAR17 SR2</text>
<line x1="200.6" y1="267.7" x2="210.2" y2="267.7" stroke="#2b479b" stroke-width="1.4"/>
<path d="M202.54,265.41 L208.26,265.41 L205.4,270.56Z" fill="#fff" stroke="#2b479b" stroke-width="0.9"/>
<text x="214.6" y="270.5" font-size="7.9" fill="#282828" textLength="40.11" lengthAdjust="spacingAndGlyphs" >CAR 17 QR3</text>
<line x1="200.6" y1="277" x2="210.2" y2="277" stroke="#e8232a" stroke-width="1.4"/>
<circle cx="205.4" cy="277" r="2.6" fill="#e8232a"/>
<text x="214.6" y="279.8" font-size="7.9" fill="#282828" textLength="39.35" lengthAdjust="spacingAndGlyphs" >CAR 23 SR2</text>
<line x1="200.6" y1="286.5" x2="210.2" y2="286.5" stroke="#e8232a" stroke-width="1.4"/>
<path d="M202.54,284.21 L208.26,284.21 L205.4,289.36Z" fill="#fff" stroke="#e8232a" stroke-width="0.9"/>
<text x="214.6" y="289.3" font-size="7.9" fill="#282828" textLength="40.11" lengthAdjust="spacingAndGlyphs" >CAR 23 QR3</text>
<line x1="200.6" y1="295" x2="210.2" y2="295" stroke="#231f20" stroke-width="1.4"/>
<circle cx="205.4" cy="295" r="2.6" fill="#231f20"/>
<text x="214.6" y="297.8" font-size="7.9" fill="#282828" textLength="14.13" lengthAdjust="spacingAndGlyphs" >NTD</text>
<text x="300.4" y="159.2" font-size="14" fill="#000" font-weight="bold" >D</text>
<line x1="329.6" y1="161.5" x2="329.6" y2="261.5" stroke="#231f20" stroke-width="1.3"/>
<line x1="329.1" y1="261" x2="478.8" y2="261" stroke="#231f20" stroke-width="1.3"/>
<line x1="327.2" y1="261" x2="329.6" y2="261" stroke="#231f20" stroke-width="0.9"/>
<text x="325.6" y="263.4" font-size="6.8" fill="#231f20" font-weight="bold" text-anchor="end" >0</text>
<line x1="327.2" y1="236.25" x2="329.6" y2="236.25" stroke="#231f20" stroke-width="0.9"/>
<text x="325.6" y="238.65" font-size="6.8" fill="#231f20" font-weight="bold" text-anchor="end" >10</text>
<line x1="327.2" y1="211.5" x2="329.6" y2="211.5" stroke="#231f20" stroke-width="0.9"/>
<text x="325.6" y="213.9" font-size="6.8" fill="#231f20" font-weight="bold" text-anchor="end" >20</text>
<line x1="327.2" y1="186.75" x2="329.6" y2="186.75" stroke="#231f20" stroke-width="0.9"/>
<text x="325.6" y="189.15" font-size="6.8" fill="#231f20" font-weight="bold" text-anchor="end" >30</text>
<line x1="327.2" y1="162" x2="329.6" y2="162" stroke="#231f20" stroke-width="0.9"/>
<text x="325.6" y="164.4" font-size="6.8" fill="#231f20" font-weight="bold" text-anchor="end" >40</text>
<text x="313.6" y="212.2" font-size="7.4" fill="#231f20" font-weight="bold" text-anchor="middle" textLength="81.6" lengthAdjust="spacingAndGlyphs" transform="rotate(-90 313.6 212.2)" >% Live target cells (RLU)</text>
<path d="M335.5,206.55V210.76M333.7,206.55H337.3M333.7,210.76H337.3" stroke="#333" stroke-width="1" fill="none"/>
<rect x="332.1" y="210.76" width="6.8" height="50.24" fill="#f7941d" stroke="none" stroke-width="0" rx="0"/>
<line x1="335.5" y1="261" x2="335.5" y2="263.3" stroke="#231f20" stroke-width="0.9"/>
<text x="339.1" y="268.8" font-size="6.9" fill="#231f20" font-weight="bold" text-anchor="end" textLength="33.52" lengthAdjust="spacingAndGlyphs" transform="rotate(-45 339.1 268.8)" >CAR 3 R2S</text>
<path d="M346.06,184.77V187.25M344.26,184.77H347.86M344.26,187.25H347.86" stroke="#333" stroke-width="1" fill="none"/>
<rect x="342.66" y="187.25" width="6.8" height="73.75" fill="#f7941d" stroke="none" stroke-width="0" rx="0"/>
<line x1="346.06" y1="261" x2="346.06" y2="263.3" stroke="#231f20" stroke-width="0.9"/>
<text x="349.66" y="268.8" font-size="6.9" fill="#231f20" font-weight="bold" text-anchor="end" textLength="33.52" lengthAdjust="spacingAndGlyphs" transform="rotate(-45 349.66 268.8)" >CAR 3 SR2</text>
<path d="M356.62,185.76V187.25M354.82,185.76H358.42M354.82,187.25H358.42" stroke="#333" stroke-width="1" fill="none"/>
<rect x="353.22" y="187.25" width="6.8" height="73.75" fill="#f7941d" stroke="none" stroke-width="0" rx="0"/>
<line x1="356.62" y1="261" x2="356.62" y2="263.3" stroke="#231f20" stroke-width="0.9"/>
<text x="360.22" y="268.8" font-size="6.9" fill="#231f20" font-weight="bold" text-anchor="end" textLength="34.23" lengthAdjust="spacingAndGlyphs" transform="rotate(-45 360.22 268.8)" >CAR 3 QR3</text>
<path d="M367.18,235.01V239.72M365.38,235.01H368.98M365.38,239.72H368.98" stroke="#333" stroke-width="1" fill="none"/>
<rect x="363.78" y="239.72" width="6.8" height="21.28" fill="#662d91" stroke="none" stroke-width="0" rx="0"/>
<line x1="367.18" y1="261" x2="367.18" y2="263.3" stroke="#231f20" stroke-width="0.9"/>
<text x="370.78" y="268.8" font-size="6.9" fill="#231f20" font-weight="bold" text-anchor="end" textLength="33.52" lengthAdjust="spacingAndGlyphs" transform="rotate(-45 370.78 268.8)" >CAR 9 R2S</text>
<path d="M377.74,214.97V221.89M375.94,214.97H379.54M375.94,221.89H379.54" stroke="#333" stroke-width="1" fill="none"/>
<rect x="374.34" y="221.89" width="6.8" height="39.11" fill="#662d91" stroke="none" stroke-width="0" rx="0"/>
<line x1="377.74" y1="261" x2="377.74" y2="263.3" stroke="#231f20" stroke-width="0.9"/>
<text x="381.34" y="268.8" font-size="6.9" fill="#231f20" font-weight="bold" text-anchor="end" textLength="33.52" lengthAdjust="spacingAndGlyphs" transform="rotate(-45 381.34 268.8)" >CAR 9 SR2</text>
<path d="M388.3,208.78V211M386.5,208.78H390.1M386.5,211H390.1" stroke="#333" stroke-width="1" fill="none"/>
<rect x="384.9" y="211" width="6.8" height="50" fill="#662d91" stroke="none" stroke-width="0" rx="0"/>
<line x1="388.3" y1="261" x2="388.3" y2="263.3" stroke="#231f20" stroke-width="0.9"/>
<text x="391.9" y="268.8" font-size="6.9" fill="#231f20" font-weight="bold" text-anchor="end" textLength="34.23" lengthAdjust="spacingAndGlyphs" transform="rotate(-45 391.9 268.8)" >CAR 9 QR3</text>
<path d="M398.86,200.86V203.09M397.06,200.86H400.66M397.06,203.09H400.66" stroke="#333" stroke-width="1" fill="none"/>
<rect x="395.46" y="203.09" width="6.8" height="57.91" fill="#0d7a3f" stroke="none" stroke-width="0" rx="0"/>
<line x1="398.86" y1="261" x2="398.86" y2="263.3" stroke="#231f20" stroke-width="0.9"/>
<text x="402.46" y="268.8" font-size="6.9" fill="#231f20" font-weight="bold" text-anchor="end" textLength="37.09" lengthAdjust="spacingAndGlyphs" transform="rotate(-45 402.46 268.8)" >CAR 14 R2S</text>
<path d="M409.42,236V236.5M407.62,236H411.22M407.62,236.5H411.22" stroke="#333" stroke-width="1" fill="none"/>
<rect x="406.02" y="236.5" width="6.8" height="24.5" fill="#0d7a3f" stroke="none" stroke-width="0" rx="0"/>
<line x1="409.42" y1="261" x2="409.42" y2="263.3" stroke="#231f20" stroke-width="0.9"/>
<text x="413.02" y="268.8" font-size="6.9" fill="#231f20" font-weight="bold" text-anchor="end" textLength="37.09" lengthAdjust="spacingAndGlyphs" transform="rotate(-45 413.02 268.8)" >CAR 14 SR2</text>
<path d="M419.98,225.61V228.08M418.18,225.61H421.78M418.18,228.08H421.78" stroke="#333" stroke-width="1" fill="none"/>
<rect x="416.58" y="228.08" width="6.8" height="32.92" fill="#0d7a3f" stroke="none" stroke-width="0" rx="0"/>
<line x1="419.98" y1="261" x2="419.98" y2="263.3" stroke="#231f20" stroke-width="0.9"/>
<text x="423.58" y="268.8" font-size="6.9" fill="#231f20" font-weight="bold" text-anchor="end" textLength="37.8" lengthAdjust="spacingAndGlyphs" transform="rotate(-45 423.58 268.8)" >CAR 14 QR3</text>
<path d="M430.54,253.57V254.56M428.74,253.57H432.34M428.74,254.56H432.34" stroke="#333" stroke-width="1" fill="none"/>
<rect x="427.14" y="254.56" width="6.8" height="6.44" fill="#2b3990" stroke="none" stroke-width="0" rx="0"/>
<line x1="430.54" y1="261" x2="430.54" y2="263.3" stroke="#231f20" stroke-width="0.9"/>
<text x="434.14" y="268.8" font-size="6.9" fill="#231f20" font-weight="bold" text-anchor="end" textLength="37.09" lengthAdjust="spacingAndGlyphs" transform="rotate(-45 434.14 268.8)" >CAR 17 R2S</text>
<path d="M441.1,232.29V236.5M439.3,232.29H442.9M439.3,236.5H442.9" stroke="#333" stroke-width="1" fill="none"/>
<rect x="437.7" y="236.5" width="6.8" height="24.5" fill="#2b3990" stroke="none" stroke-width="0" rx="0"/>
<line x1="441.1" y1="261" x2="441.1" y2="263.3" stroke="#231f20" stroke-width="0.9"/>
<text x="444.7" y="268.8" font-size="6.9" fill="#231f20" font-weight="bold" text-anchor="end" textLength="37.09" lengthAdjust="spacingAndGlyphs" transform="rotate(-45 444.7 268.8)" >CAR 17 SR2</text>
<path d="M451.66,234.27V234.76M449.86,234.27H453.46M449.86,234.76H453.46" stroke="#333" stroke-width="1" fill="none"/>
<rect x="448.26" y="234.76" width="6.8" height="26.24" fill="#2b3990" stroke="none" stroke-width="0" rx="0"/>
<line x1="451.66" y1="261" x2="451.66" y2="263.3" stroke="#231f20" stroke-width="0.9"/>
<text x="455.26" y="268.8" font-size="6.9" fill="#231f20" font-weight="bold" text-anchor="end" textLength="37.8" lengthAdjust="spacingAndGlyphs" transform="rotate(-45 455.26 268.8)" >CAR 17 QR3</text>
<path d="M462.22,168.44V170.17M460.42,168.44H464.02M460.42,170.17H464.02" stroke="#333" stroke-width="1" fill="none"/>
<rect x="458.82" y="170.17" width="6.8" height="90.83" fill="#ed1c24" stroke="none" stroke-width="0" rx="0"/>
<line x1="462.22" y1="261" x2="462.22" y2="263.3" stroke="#231f20" stroke-width="0.9"/>
<text x="465.82" y="268.8" font-size="6.9" fill="#231f20" font-weight="bold" text-anchor="end" textLength="37.09" lengthAdjust="spacingAndGlyphs" transform="rotate(-45 465.82 268.8)" >CAR 23 SR2</text>
<path d="M472.78,196.16V202.34M470.98,196.16H474.58M470.98,202.34H474.58" stroke="#333" stroke-width="1" fill="none"/>
<rect x="469.38" y="202.34" width="6.8" height="58.66" fill="#ed1c24" stroke="none" stroke-width="0" rx="0"/>
<line x1="472.78" y1="261" x2="472.78" y2="263.3" stroke="#231f20" stroke-width="0.9"/>
<text x="476.38" y="268.8" font-size="6.9" fill="#231f20" font-weight="bold" text-anchor="end" textLength="37.8" lengthAdjust="spacingAndGlyphs" transform="rotate(-45 476.38 268.8)" >CAR 23 QR3</text>
<path d="M335.3,184 L335.3,195.6" fill="none" stroke="#e01b24" stroke-width="1.3"/>
<path d="M331.6,192 L335.3,198.6 L339,192 L335.3,195Z" fill="#e01b24"/>
<path d="M367,216 L367,228" fill="none" stroke="#e01b24" stroke-width="1.3"/>
<path d="M363.3,224.4 L367,231 L370.7,224.4 L367,227.4Z" fill="#e01b24"/>
<path d="M409,215.4 L409,226.8" fill="none" stroke="#e01b24" stroke-width="1.3"/>
<path d="M405.3,223.2 L409,229.8 L412.7,223.2 L409,226.2Z" fill="#e01b24"/>
<path d="M430.4,233.6 L430.4,244" fill="none" stroke="#e01b24" stroke-width="1.3"/>
<path d="M426.7,240.4 L430.4,247 L434.1,240.4 L430.4,243.4Z" fill="#e01b24"/>
<path d="M472.5,178 L472.5,188.3" fill="none" stroke="#e01b24" stroke-width="1.3"/>
<path d="M468.8,184.7 L472.5,191.3 L476.2,184.7 L472.5,187.7Z" fill="#e01b24"/>
<text x="4.8" y="316" font-size="14" fill="#000" font-weight="bold" >E</text>
<text x="79.6" y="331.5" font-size="11" fill="#231f20" font-weight="bold" textLength="30" lengthAdjust="spacingAndGlyphs" >786-O</text>
<line x1="37.5" y1="325.4" x2="37.5" y2="419.6" stroke="#231f20" stroke-width="1.3"/>
<line x1="37" y1="419.2" x2="177.8" y2="419.2" stroke="#231f20" stroke-width="1.3"/>
<line x1="35" y1="419" x2="37.5" y2="419" stroke="#231f20" stroke-width="0.9"/>
<text x="33.2" y="421.5" font-size="7.2" fill="#231f20" font-weight="bold" text-anchor="end" >0</text>
<line x1="35" y1="405.67" x2="37.5" y2="405.67" stroke="#231f20" stroke-width="0.9"/>
<text x="33.2" y="408.17" font-size="7.2" fill="#231f20" font-weight="bold" text-anchor="end" >100</text>
<line x1="35" y1="392.34" x2="37.5" y2="392.34" stroke="#231f20" stroke-width="0.9"/>
<text x="33.2" y="394.84" font-size="7.2" fill="#231f20" font-weight="bold" text-anchor="end" >200</text>
<line x1="35" y1="379.01" x2="37.5" y2="379.01" stroke="#231f20" stroke-width="0.9"/>
<text x="33.2" y="381.51" font-size="7.2" fill="#231f20" font-weight="bold" text-anchor="end" >300</text>
<line x1="35" y1="365.68" x2="37.5" y2="365.68" stroke="#231f20" stroke-width="0.9"/>
<text x="33.2" y="368.18" font-size="7.2" fill="#231f20" font-weight="bold" text-anchor="end" >400</text>
<line x1="35" y1="352.35" x2="37.5" y2="352.35" stroke="#231f20" stroke-width="0.9"/>
<text x="33.2" y="354.85" font-size="7.2" fill="#231f20" font-weight="bold" text-anchor="end" >500</text>
<line x1="35" y1="339.02" x2="37.5" y2="339.02" stroke="#231f20" stroke-width="0.9"/>
<text x="33.2" y="341.52" font-size="7.2" fill="#231f20" font-weight="bold" text-anchor="end" >600</text>
<line x1="35" y1="325.69" x2="37.5" y2="325.69" stroke="#231f20" stroke-width="0.9"/>
<text x="33.2" y="328.19" font-size="7.2" fill="#231f20" font-weight="bold" text-anchor="end" >700</text>
<line x1="37.1" y1="419.2" x2="37.1" y2="421.6" stroke="#231f20" stroke-width="0.9"/>
<text x="37.1" y="431.3" font-size="7" fill="#231f20" font-weight="bold" text-anchor="middle" >-5</text>
<line x1="57.2" y1="419.2" x2="57.2" y2="421.6" stroke="#231f20" stroke-width="0.9"/>
<text x="57.2" y="431.3" font-size="7" fill="#231f20" font-weight="bold" text-anchor="middle" >0</text>
<line x1="77.3" y1="419.2" x2="77.3" y2="421.6" stroke="#231f20" stroke-width="0.9"/>
<text x="77.3" y="431.3" font-size="7" fill="#231f20" font-weight="bold" text-anchor="middle" >5</text>
<line x1="97.4" y1="419.2" x2="97.4" y2="421.6" stroke="#231f20" stroke-width="0.9"/>
<text x="97.4" y="431.3" font-size="7" fill="#231f20" font-weight="bold" text-anchor="middle" >10</text>
<line x1="117.5" y1="419.2" x2="117.5" y2="421.6" stroke="#231f20" stroke-width="0.9"/>
<text x="117.5" y="431.3" font-size="7" fill="#231f20" font-weight="bold" text-anchor="middle" >15</text>
<line x1="137.6" y1="419.2" x2="137.6" y2="421.6" stroke="#231f20" stroke-width="0.9"/>
<text x="137.6" y="431.3" font-size="7" fill="#231f20" font-weight="bold" text-anchor="middle" >20</text>
<line x1="157.7" y1="419.2" x2="157.7" y2="421.6" stroke="#231f20" stroke-width="0.9"/>
<text x="157.7" y="431.3" font-size="7" fill="#231f20" font-weight="bold" text-anchor="middle" >25</text>
<line x1="177.8" y1="419.2" x2="177.8" y2="421.6" stroke="#231f20" stroke-width="0.9"/>
<text x="177.8" y="431.3" font-size="7" fill="#231f20" font-weight="bold" text-anchor="middle" >30</text>
<text x="54.4" y="443" font-size="8.8" fill="#231f20" font-weight="bold" textLength="108.5" lengthAdjust="spacingAndGlyphs" >Days post CAR treatment</text>
<text x="16.2" y="370.8" font-size="8.1" fill="#231f20" font-weight="bold" text-anchor="middle" transform="rotate(-90 16.2 370.8)" >Tumor volume (mm<tspan dy="-2.6" font-size="5.4">3</tspan><tspan dy="2.6">)</tspan></text>
<path d="M69.7,389.5V393.5M67.8,389.5H71.6M67.8,393.5H71.6" stroke="#231f20" stroke-width="1" fill="none"/>
<path d="M82,374.9V381.9M80.1,374.9H83.9M80.1,381.9H83.9" stroke="#231f20" stroke-width="1" fill="none"/>
<path d="M94,370.5V376.5M92.1,370.5H95.9M92.1,376.5H95.9" stroke="#231f20" stroke-width="1" fill="none"/>
<path d="M106,357.7V367.7M104.1,357.7H107.9M104.1,367.7H107.9" stroke="#231f20" stroke-width="1" fill="none"/>
<path d="M125.8,349.6V359.6M123.9,349.6H127.7M123.9,359.6H127.7" stroke="#231f20" stroke-width="1" fill="none"/>
<path d="M137.8,346.6V356.6M135.9,346.6H139.7M135.9,356.6H139.7" stroke="#231f20" stroke-width="1" fill="none"/>
<path d="M153.5,332.8V348.8M151.6,332.8H155.4M151.6,348.8H155.4" stroke="#231f20" stroke-width="1" fill="none"/>
<path d="M69.7,383.5V389.5M67.8,383.5H71.6M67.8,389.5H71.6" stroke="#7eaadb" stroke-width="1" fill="none"/>
<path d="M82,382.3V388.3M80.1,382.3H83.9M80.1,388.3H83.9" stroke="#7eaadb" stroke-width="1" fill="none"/>
<path d="M94,389.8V397.8M92.1,389.8H95.9M92.1,397.8H95.9" stroke="#7eaadb" stroke-width="1" fill="none"/>
<path d="M106,384V392M104.1,384H107.9M104.1,392H107.9" stroke="#7eaadb" stroke-width="1" fill="none"/>
<path d="M125.8,389.8V397.8M123.9,389.8H127.7M123.9,397.8H127.7" stroke="#7eaadb" stroke-width="1" fill="none"/>
<path d="M137.8,390.3V398.3M135.9,390.3H139.7M135.9,398.3H139.7" stroke="#7eaadb" stroke-width="1" fill="none"/>
<path d="M153.5,384V392M151.6,384H155.4M151.6,392H155.4" stroke="#7eaadb" stroke-width="1" fill="none"/>
<path d="M69.7,385.2V391.2M67.8,385.2H71.6M67.8,391.2H71.6" stroke="#4459a6" stroke-width="1" fill="none"/>
<path d="M82,383.2V389.2M80.1,383.2H83.9M80.1,389.2H83.9" stroke="#4459a6" stroke-width="1" fill="none"/>
<path d="M94,382V388M92.1,382H95.9M92.1,388H95.9" stroke="#4459a6" stroke-width="1" fill="none"/>
<path d="M106,378V384M104.1,378H107.9M104.1,384H107.9" stroke="#4459a6" stroke-width="1" fill="none"/>
<path d="M125.8,381.8V389.8M123.9,381.8H127.7M123.9,389.8H127.7" stroke="#4459a6" stroke-width="1" fill="none"/>
<path d="M137.8,383V391M135.9,383H139.7M135.9,391H139.7" stroke="#4459a6" stroke-width="1" fill="none"/>
<path d="M153.5,383V391M151.6,383H155.4M151.6,391H155.4" stroke="#4459a6" stroke-width="1" fill="none"/>
<path d="M69.7,388.8V392.8M67.8,388.8H71.6M67.8,392.8H71.6" stroke="#2b2a6b" stroke-width="1" fill="none"/>
<path d="M82,385.8V389.8M80.1,385.8H83.9M80.1,389.8H83.9" stroke="#2b2a6b" stroke-width="1" fill="none"/>
<path d="M94,392V398M92.1,392H95.9M92.1,398H95.9" stroke="#2b2a6b" stroke-width="1" fill="none"/>
<path d="M106,399V407M104.1,399H107.9M104.1,407H107.9" stroke="#2b2a6b" stroke-width="1" fill="none"/>
<path d="M125.8,403.2V411.2M123.9,403.2H127.7M123.9,411.2H127.7" stroke="#2b2a6b" stroke-width="1" fill="none"/>
<path d="M137.8,402.5V410.5M135.9,402.5H139.7M135.9,410.5H139.7" stroke="#2b2a6b" stroke-width="1" fill="none"/>
<path d="M153.5,406.5V414.5M151.6,406.5H155.4M151.6,414.5H155.4" stroke="#2b2a6b" stroke-width="1" fill="none"/>
<polyline points="49.1,394.6 69.7,390.8 82,387.8 94,395 106,403 125.8,407.2 137.8,406.5 153.5,410.5" fill="none" stroke="#2b2a6b" stroke-width="1.8" stroke-linejoin="round"/>
<rect x="46.85" y="392.35" width="4.5" height="4.5" fill="#2b2a6b"/>
<rect x="67.45" y="388.55" width="4.5" height="4.5" fill="#2b2a6b"/>
<rect x="79.75" y="385.55" width="4.5" height="4.5" fill="#2b2a6b"/>
<rect x="91.75" y="392.75" width="4.5" height="4.5" fill="#2b2a6b"/>
<rect x="103.75" y="400.75" width="4.5" height="4.5" fill="#2b2a6b"/>
<rect x="123.55" y="404.95" width="4.5" height="4.5" fill="#2b2a6b"/>
<rect x="135.55" y="404.25" width="4.5" height="4.5" fill="#2b2a6b"/>
<rect x="151.25" y="408.25" width="4.5" height="4.5" fill="#2b2a6b"/>
<polyline points="49.1,394.6 69.7,388.2 82,386.2 94,385 106,381 125.8,385.8 137.8,387 153.5,387" fill="none" stroke="#4459a6" stroke-width="1.8" stroke-linejoin="round"/>
<circle cx="49.1" cy="394.6" r="2.5" fill="#4459a6"/>
<circle cx="69.7" cy="388.2" r="2.5" fill="#4459a6"/>
<circle cx="82" cy="386.2" r="2.5" fill="#4459a6"/>
<circle cx="94" cy="385" r="2.5" fill="#4459a6"/>
<circle cx="106" cy="381" r="2.5" fill="#4459a6"/>
<circle cx="125.8" cy="385.8" r="2.5" fill="#4459a6"/>
<circle cx="137.8" cy="387" r="2.5" fill="#4459a6"/>
<circle cx="153.5" cy="387" r="2.5" fill="#4459a6"/>
<polyline points="49.1,394.6 69.7,386.5 82,385.3 94,393.8 106,388 125.8,393.8 137.8,394.3 153.5,388" fill="none" stroke="#7eaadb" stroke-width="1.8" stroke-linejoin="round"/>
<rect x="46.85" y="392.35" width="4.5" height="4.5" fill="#7eaadb"/>
<rect x="67.45" y="384.25" width="4.5" height="4.5" fill="#7eaadb"/>
<rect x="79.75" y="383.05" width="4.5" height="4.5" fill="#7eaadb"/>
<rect x="91.75" y="391.55" width="4.5" height="4.5" fill="#7eaadb"/>
<rect x="103.75" y="385.75" width="4.5" height="4.5" fill="#7eaadb"/>
<rect x="123.55" y="391.55" width="4.5" height="4.5" fill="#7eaadb"/>
<rect x="135.55" y="392.05" width="4.5" height="4.5" fill="#7eaadb"/>
<rect x="151.25" y="385.75" width="4.5" height="4.5" fill="#7eaadb"/>
<polyline points="49.1,394.6 69.7,391.5 82,378.4 94,373.5 106,362.7 125.8,354.6 137.8,351.6 153.5,340.8" fill="none" stroke="#231f20" stroke-width="1.8" stroke-linejoin="round"/>
<circle cx="49.1" cy="394.6" r="2.5" fill="#231f20"/>
<circle cx="69.7" cy="391.5" r="2.5" fill="#231f20"/>
<circle cx="82" cy="378.4" r="2.5" fill="#231f20"/>
<circle cx="94" cy="373.5" r="2.5" fill="#231f20"/>
<circle cx="106" cy="362.7" r="2.5" fill="#231f20"/>
<circle cx="125.8" cy="354.6" r="2.5" fill="#231f20"/>
<circle cx="137.8" cy="351.6" r="2.5" fill="#231f20"/>
<circle cx="153.5" cy="340.8" r="2.5" fill="#231f20"/>
<circle cx="162.7" cy="384.6" r="1.25" fill="#231f20"/>
<circle cx="166" cy="384.6" r="1.25" fill="#231f20"/>
<circle cx="162.7" cy="391" r="1.25" fill="#231f20"/>
<circle cx="166" cy="391" r="1.25" fill="#231f20"/>
<circle cx="162.7" cy="411.8" r="1.25" fill="#231f20"/>
<circle cx="166" cy="411.8" r="1.25" fill="#231f20"/>
<circle cx="169.3" cy="411.8" r="1.25" fill="#231f20"/>
<circle cx="172.6" cy="411.8" r="1.25" fill="#231f20"/>
<line x1="166.7" y1="330.2" x2="176.3" y2="330.2" stroke="#231f20" stroke-width="1.5"/>
<circle cx="171.5" cy="330.2" r="2.1" fill="#231f20"/>
<text x="182.2" y="333" font-size="7.9" fill="#282828" textLength="15.91" lengthAdjust="spacingAndGlyphs" >NTD</text>
<line x1="166.7" y1="343" x2="176.3" y2="343" stroke="#7eaadb" stroke-width="1.5"/>
<rect x="169.61" y="341.11" width="3.78" height="3.78" fill="#7eaadb"/>
<text x="182.2" y="345.8" font-size="7.9" fill="#282828" textLength="27.11" lengthAdjust="spacingAndGlyphs" >CAR 23</text>
<line x1="166.7" y1="355.6" x2="176.3" y2="355.6" stroke="#4459a6" stroke-width="1.5"/>
<circle cx="171.5" cy="355.6" r="2.1" fill="#4459a6"/>
<text x="182.2" y="358.4" font-size="7.9" fill="#282828" textLength="44.32" lengthAdjust="spacingAndGlyphs" >CAR 23 SR2</text>
<line x1="166.7" y1="368" x2="176.3" y2="368" stroke="#2b2a6b" stroke-width="1.5"/>
<rect x="169.61" y="366.11" width="3.78" height="3.78" fill="#2b2a6b"/>
<text x="182.2" y="370.8" font-size="7.9" fill="#282828" textLength="45.18" lengthAdjust="spacingAndGlyphs" >CAR 23 QR3</text>
<text x="246.7" y="316" font-size="14" fill="#000" font-weight="bold" >F</text>
<text x="335" y="329.4" font-size="10.4" fill="#231f20" font-weight="bold" textLength="28.5" lengthAdjust="spacingAndGlyphs" >786-O</text>
<line x1="280.5" y1="325.2" x2="280.5" y2="426" stroke="#231f20" stroke-width="1.3"/>
<line x1="280" y1="425.5" x2="431.3" y2="425.5" stroke="#231f20" stroke-width="1.3"/>
<line x1="278" y1="418.76" x2="280.5" y2="418.76" stroke="#231f20" stroke-width="0.9"/>
<text x="275.2" y="421.26" font-size="7.5" fill="#231f20" font-weight="bold" text-anchor="end" >100</text>
<line x1="278" y1="404.48" x2="280.5" y2="404.48" stroke="#231f20" stroke-width="0.9"/>
<text x="275.2" y="406.98" font-size="7.5" fill="#231f20" font-weight="bold" text-anchor="end" >300</text>
<line x1="278" y1="390.2" x2="280.5" y2="390.2" stroke="#231f20" stroke-width="0.9"/>
<text x="275.2" y="392.7" font-size="7.5" fill="#231f20" font-weight="bold" text-anchor="end" >500</text>
<line x1="278" y1="375.92" x2="280.5" y2="375.92" stroke="#231f20" stroke-width="0.9"/>
<text x="275.2" y="378.42" font-size="7.5" fill="#231f20" font-weight="bold" text-anchor="end" >700</text>
<line x1="278" y1="361.64" x2="280.5" y2="361.64" stroke="#231f20" stroke-width="0.9"/>
<text x="275.2" y="364.14" font-size="7.5" fill="#231f20" font-weight="bold" text-anchor="end" >900</text>
<line x1="278" y1="347.36" x2="280.5" y2="347.36" stroke="#231f20" stroke-width="0.9"/>
<text x="275.2" y="349.86" font-size="7.5" fill="#231f20" font-weight="bold" text-anchor="end" >1,100</text>
<line x1="278" y1="333.08" x2="280.5" y2="333.08" stroke="#231f20" stroke-width="0.9"/>
<text x="275.2" y="335.58" font-size="7.5" fill="#231f20" font-weight="bold" text-anchor="end" >1,300</text>
<line x1="284" y1="425.5" x2="284" y2="429.8" stroke="#231f20" stroke-width="1.3"/>
<text x="286.8" y="437.6" font-size="7.4" fill="#231f20" font-weight="bold" text-anchor="end" transform="rotate(-45 286.8 437.6)" >0</text>
<line x1="300.31" y1="425.5" x2="300.31" y2="429.8" stroke="#231f20" stroke-width="1.3"/>
<text x="303.12" y="437.6" font-size="7.4" fill="#231f20" font-weight="bold" text-anchor="end" transform="rotate(-45 303.12 437.6)" >5</text>
<line x1="316.63" y1="425.5" x2="316.63" y2="429.8" stroke="#231f20" stroke-width="1.3"/>
<text x="319.43" y="437.6" font-size="7.4" fill="#231f20" font-weight="bold" text-anchor="end" transform="rotate(-45 319.43 437.6)" >10</text>
<line x1="332.94" y1="425.5" x2="332.94" y2="429.8" stroke="#231f20" stroke-width="1.3"/>
<text x="335.75" y="437.6" font-size="7.4" fill="#231f20" font-weight="bold" text-anchor="end" transform="rotate(-45 335.75 437.6)" >15</text>
<line x1="349.26" y1="425.5" x2="349.26" y2="429.8" stroke="#231f20" stroke-width="1.3"/>
<text x="352.06" y="437.6" font-size="7.4" fill="#231f20" font-weight="bold" text-anchor="end" transform="rotate(-45 352.06 437.6)" >20</text>
<line x1="365.57" y1="425.5" x2="365.57" y2="429.8" stroke="#231f20" stroke-width="1.3"/>
<text x="368.38" y="437.6" font-size="7.4" fill="#231f20" font-weight="bold" text-anchor="end" transform="rotate(-45 368.38 437.6)" >25</text>
<line x1="381.89" y1="425.5" x2="381.89" y2="429.8" stroke="#231f20" stroke-width="1.3"/>
<text x="384.69" y="437.6" font-size="7.4" fill="#231f20" font-weight="bold" text-anchor="end" transform="rotate(-45 384.69 437.6)" >30</text>
<line x1="398.2" y1="425.5" x2="398.2" y2="429.8" stroke="#231f20" stroke-width="1.3"/>
<text x="401" y="437.6" font-size="7.4" fill="#231f20" font-weight="bold" text-anchor="end" transform="rotate(-45 401 437.6)" >35</text>
<line x1="414.52" y1="425.5" x2="414.52" y2="429.8" stroke="#231f20" stroke-width="1.3"/>
<text x="417.32" y="437.6" font-size="7.4" fill="#231f20" font-weight="bold" text-anchor="end" transform="rotate(-45 417.32 437.6)" >40</text>
<line x1="430.84" y1="425.5" x2="430.84" y2="429.8" stroke="#231f20" stroke-width="1.3"/>
<text x="433.64" y="437.6" font-size="7.4" fill="#231f20" font-weight="bold" text-anchor="end" transform="rotate(-45 433.64 437.6)" >45</text>
<text x="305.2" y="453.3" font-size="8.8" fill="#231f20" font-weight="bold" textLength="100" lengthAdjust="spacingAndGlyphs" >Days post CAR treatment</text>
<text x="255.6" y="375.6" font-size="8" fill="#231f20" font-weight="bold" text-anchor="middle" transform="rotate(-90 255.6 375.6)" >Tumor volume (mm<tspan dy="-2.6" font-size="5.4">3</tspan><tspan dy="2.6">)</tspan></text>
<path d="M293.4,404.5V407.5M291.6,404.5H295.2M291.6,407.5H295.2" stroke="#231f20" stroke-width="1" fill="none"/>
<path d="M306.5,401.5V405.5M304.7,401.5H308.3M304.7,405.5H308.3" stroke="#231f20" stroke-width="1" fill="none"/>
<path d="M316.8,400V404M315,400H318.6M315,404H318.6" stroke="#231f20" stroke-width="1" fill="none"/>
<path d="M327,393.4V397.4M325.2,393.4H328.8M325.2,397.4H328.8" stroke="#231f20" stroke-width="1" fill="none"/>
<path d="M339.8,376.5V382.5M338,376.5H341.6M338,382.5H341.6" stroke="#231f20" stroke-width="1" fill="none"/>
<path d="M346.2,360.4V368.4M344.4,360.4H348M344.4,368.4H348" stroke="#231f20" stroke-width="1" fill="none"/>
<path d="M362.7,354.3V360.3M360.9,354.3H364.5M360.9,360.3H364.5" stroke="#231f20" stroke-width="1" fill="none"/>
<path d="M372.3,346.4V352.4M370.5,346.4H374.1M370.5,352.4H374.1" stroke="#231f20" stroke-width="1" fill="none"/>
<path d="M382.3,347.6V355.6M380.5,347.6H384.1M380.5,355.6H384.1" stroke="#231f20" stroke-width="1" fill="none"/>
<path d="M395.4,348.7V356.7M393.6,348.7H397.2M393.6,356.7H397.2" stroke="#231f20" stroke-width="1" fill="none"/>
<path d="M411.5,342.7V352.7M409.7,342.7H413.3M409.7,352.7H413.3" stroke="#231f20" stroke-width="1" fill="none"/>
<path d="M421.7,330.6V359.4M419.9,330.6H423.5M419.9,359.4H423.5" stroke="#231f20" stroke-width="1" fill="none"/>
<path d="M293.4,412.2V416.2M291.6,412.2H295.2M291.6,416.2H295.2" stroke="#9b5fb5" stroke-width="1" fill="none" stroke-opacity="0.7"/>
<path d="M306.5,412.2V416.2M304.7,412.2H308.3M304.7,416.2H308.3" stroke="#9b5fb5" stroke-width="1" fill="none" stroke-opacity="0.7"/>
<path d="M316.8,414V418M315,414H318.6M315,418H318.6" stroke="#9b5fb5" stroke-width="1" fill="none" stroke-opacity="0.7"/>
<path d="M327,411.5V417.5M325.2,411.5H328.8M325.2,417.5H328.8" stroke="#9b5fb5" stroke-width="1" fill="none" stroke-opacity="0.7"/>
<path d="M339.8,406.8V412.8M338,406.8H341.6M338,412.8H341.6" stroke="#9b5fb5" stroke-width="1" fill="none" stroke-opacity="0.7"/>
<path d="M346.2,403V409M344.4,403H348M344.4,409H348" stroke="#9b5fb5" stroke-width="1" fill="none" stroke-opacity="0.7"/>
<path d="M362.7,391.3V403.3M360.9,391.3H364.5M360.9,403.3H364.5" stroke="#9b5fb5" stroke-width="1" fill="none" stroke-opacity="0.7"/>
<path d="M372.3,381.6V397.6M370.5,381.6H374.1M370.5,397.6H374.1" stroke="#9b5fb5" stroke-width="1" fill="none" stroke-opacity="0.7"/>
<path d="M382.3,371V393M380.5,371H384.1M380.5,393H384.1" stroke="#9b5fb5" stroke-width="1" fill="none" stroke-opacity="0.7"/>
<path d="M395.4,370V394M393.6,370H397.2M393.6,394H397.2" stroke="#9b5fb5" stroke-width="1" fill="none" stroke-opacity="0.7"/>
<path d="M411.5,358.4V380.4M409.7,358.4H413.3M409.7,380.4H413.3" stroke="#9b5fb5" stroke-width="1" fill="none" stroke-opacity="0.7"/>
<path d="M421.7,361.8V379.8M419.9,361.8H423.5M419.9,379.8H423.5" stroke="#9b5fb5" stroke-width="1" fill="none" stroke-opacity="0.7"/>
<path d="M293.4,406V410M291.6,406H295.2M291.6,410H295.2" stroke="#0f7d3f" stroke-width="1" fill="none" stroke-opacity="0.7"/>
<path d="M306.5,404.5V408.5M304.7,404.5H308.3M304.7,408.5H308.3" stroke="#0f7d3f" stroke-width="1" fill="none" stroke-opacity="0.7"/>
<path d="M316.8,409.5V413.5M315,409.5H318.6M315,413.5H318.6" stroke="#0f7d3f" stroke-width="1" fill="none" stroke-opacity="0.7"/>
<path d="M327,410.6V414.6M325.2,410.6H328.8M325.2,414.6H328.8" stroke="#0f7d3f" stroke-width="1" fill="none" stroke-opacity="0.7"/>
<path d="M339.8,407V413M338,407H341.6M338,413H341.6" stroke="#0f7d3f" stroke-width="1" fill="none" stroke-opacity="0.7"/>
<path d="M346.2,405V411M344.4,405H348M344.4,411H348" stroke="#0f7d3f" stroke-width="1" fill="none" stroke-opacity="0.7"/>
<path d="M362.7,392.3V402.3M360.9,392.3H364.5M360.9,402.3H364.5" stroke="#0f7d3f" stroke-width="1" fill="none" stroke-opacity="0.7"/>
<path d="M372.3,390.5V399.5M370.5,390.5H374.1M370.5,399.5H374.1" stroke="#0f7d3f" stroke-width="1" fill="none" stroke-opacity="0.7"/>
<path d="M382.3,392.3V402.3M380.5,392.3H384.1M380.5,402.3H384.1" stroke="#0f7d3f" stroke-width="1" fill="none" stroke-opacity="0.7"/>
<path d="M395.4,393.8V407.8M393.6,393.8H397.2M393.6,407.8H397.2" stroke="#0f7d3f" stroke-width="1" fill="none" stroke-opacity="0.7"/>
<path d="M411.5,375.5V391.5M409.7,375.5H413.3M409.7,391.5H413.3" stroke="#0f7d3f" stroke-width="1" fill="none" stroke-opacity="0.7"/>
<path d="M421.7,383.2V395.2M419.9,383.2H423.5M419.9,395.2H423.5" stroke="#0f7d3f" stroke-width="1" fill="none" stroke-opacity="0.7"/>
<path d="M293.4,405V409M291.6,405H295.2M291.6,409H295.2" stroke="#f7a13a" stroke-width="1" fill="none" stroke-opacity="0.7"/>
<path d="M306.5,407V411M304.7,407H308.3M304.7,411H308.3" stroke="#f7a13a" stroke-width="1" fill="none" stroke-opacity="0.7"/>
<path d="M316.8,414V418M315,414H318.6M315,418H318.6" stroke="#f7a13a" stroke-width="1" fill="none" stroke-opacity="0.7"/>
<path d="M327,416V420M325.2,416H328.8M325.2,420H328.8" stroke="#f7a13a" stroke-width="1" fill="none" stroke-opacity="0.7"/>
<path d="M339.8,416V420M338,416H341.6M338,420H341.6" stroke="#f7a13a" stroke-width="1" fill="none" stroke-opacity="0.7"/>
<path d="M346.2,415.5V419.5M344.4,415.5H348M344.4,419.5H348" stroke="#f7a13a" stroke-width="1" fill="none" stroke-opacity="0.7"/>
<path d="M362.7,413.6V417.6M360.9,413.6H364.5M360.9,417.6H364.5" stroke="#f7a13a" stroke-width="1" fill="none" stroke-opacity="0.7"/>
<path d="M372.3,412.1V417.1M370.5,412.1H374.1M370.5,417.1H374.1" stroke="#f7a13a" stroke-width="1" fill="none" stroke-opacity="0.7"/>
<path d="M382.3,406.2V416.2M380.5,406.2H384.1M380.5,416.2H384.1" stroke="#f7a13a" stroke-width="1" fill="none" stroke-opacity="0.7"/>
<path d="M395.4,403.2V415.2M393.6,403.2H397.2M393.6,415.2H397.2" stroke="#f7a13a" stroke-width="1" fill="none" stroke-opacity="0.7"/>
<path d="M411.5,400.3V414.3M409.7,400.3H413.3M409.7,414.3H413.3" stroke="#f7a13a" stroke-width="1" fill="none" stroke-opacity="0.7"/>
<path d="M421.7,394.7V412.7M419.9,394.7H423.5M419.9,412.7H423.5" stroke="#f7a13a" stroke-width="1" fill="none" stroke-opacity="0.7"/>
<path d="M293.4,408.8V412.8M291.6,408.8H295.2M291.6,412.8H295.2" stroke="#2e4aa0" stroke-width="1" fill="none" stroke-opacity="0.7"/>
<path d="M306.5,408.5V412.5M304.7,408.5H308.3M304.7,412.5H308.3" stroke="#2e4aa0" stroke-width="1" fill="none" stroke-opacity="0.7"/>
<path d="M316.8,414V418M315,414H318.6M315,418H318.6" stroke="#2e4aa0" stroke-width="1" fill="none" stroke-opacity="0.7"/>
<path d="M327,416V420M325.2,416H328.8M325.2,420H328.8" stroke="#2e4aa0" stroke-width="1" fill="none" stroke-opacity="0.7"/>
<path d="M339.8,416.8V420.8M338,416.8H341.6M338,420.8H341.6" stroke="#2e4aa0" stroke-width="1" fill="none" stroke-opacity="0.7"/>
<path d="M346.2,415.5V421.5M344.4,415.5H348M344.4,421.5H348" stroke="#2e4aa0" stroke-width="1" fill="none" stroke-opacity="0.7"/>
<path d="M362.7,414.5V420.5M360.9,414.5H364.5M360.9,420.5H364.5" stroke="#2e4aa0" stroke-width="1" fill="none" stroke-opacity="0.7"/>
<path d="M372.3,418.8V422.8M370.5,418.8H374.1M370.5,422.8H374.1" stroke="#2e4aa0" stroke-width="1" fill="none" stroke-opacity="0.7"/>
<path d="M382.3,419.3V423.3M380.5,419.3H384.1M380.5,423.3H384.1" stroke="#2e4aa0" stroke-width="1" fill="none" stroke-opacity="0.7"/>
<path d="M395.4,419.3V423.3M393.6,419.3H397.2M393.6,423.3H397.2" stroke="#2e4aa0" stroke-width="1" fill="none" stroke-opacity="0.7"/>
<path d="M411.5,418.4V422.4M409.7,418.4H413.3M409.7,422.4H413.3" stroke="#2e4aa0" stroke-width="1" fill="none" stroke-opacity="0.7"/>
<path d="M421.7,418.4V422.4M419.9,418.4H423.5M419.9,422.4H423.5" stroke="#2e4aa0" stroke-width="1" fill="none" stroke-opacity="0.7"/>
<path d="M293.4,403.8V407.8M291.6,403.8H295.2M291.6,407.8H295.2" stroke="#e8222a" stroke-width="1" fill="none" stroke-opacity="0.7"/>
<path d="M306.5,408.8V412.8M304.7,408.8H308.3M304.7,412.8H308.3" stroke="#e8222a" stroke-width="1" fill="none" stroke-opacity="0.7"/>
<path d="M316.8,415V419M315,415H318.6M315,419H318.6" stroke="#e8222a" stroke-width="1" fill="none" stroke-opacity="0.7"/>
<path d="M327,418.2V420.2M325.2,418.2H328.8M325.2,420.2H328.8" stroke="#e8222a" stroke-width="1" fill="none" stroke-opacity="0.7"/>
<path d="M339.8,415.7V419.7M338,415.7H341.6M338,419.7H341.6" stroke="#e8222a" stroke-width="1" fill="none" stroke-opacity="0.7"/>
<path d="M346.2,415.5V419.5M344.4,415.5H348M344.4,419.5H348" stroke="#e8222a" stroke-width="1" fill="none" stroke-opacity="0.7"/>
<path d="M362.7,412.6V418.6M360.9,412.6H364.5M360.9,418.6H364.5" stroke="#e8222a" stroke-width="1" fill="none" stroke-opacity="0.7"/>
<path d="M372.3,414.2V418.2M370.5,414.2H374.1M370.5,418.2H374.1" stroke="#e8222a" stroke-width="1" fill="none" stroke-opacity="0.7"/>
<path d="M382.3,416V420M380.5,416H384.1M380.5,420H384.1" stroke="#e8222a" stroke-width="1" fill="none" stroke-opacity="0.7"/>
<path d="M395.4,416.8V420.8M393.6,416.8H397.2M393.6,420.8H397.2" stroke="#e8222a" stroke-width="1" fill="none" stroke-opacity="0.7"/>
<path d="M411.5,415.5V419.5M409.7,415.5H413.3M409.7,419.5H413.3" stroke="#e8222a" stroke-width="1" fill="none" stroke-opacity="0.7"/>
<path d="M421.7,416.5V420.5M419.9,416.5H423.5M419.9,420.5H423.5" stroke="#e8222a" stroke-width="1" fill="none" stroke-opacity="0.7"/>
<polyline points="280.6,412.3 293.4,406 306.5,403.5 316.8,402 327,395.4 339.8,379.5 346.2,364.4 362.7,357.3 372.3,349.4 382.3,351.6 395.4,352.7 411.5,347.7 421.7,345" fill="none" stroke="#231f20" stroke-width="1.9" stroke-linejoin="round"/>
<circle cx="280.6" cy="412.3" r="2.5" fill="#231f20"/>
<circle cx="293.4" cy="406" r="2.5" fill="#231f20"/>
<circle cx="306.5" cy="403.5" r="2.5" fill="#231f20"/>
<circle cx="316.8" cy="402" r="2.5" fill="#231f20"/>
<circle cx="327" cy="395.4" r="2.5" fill="#231f20"/>
<circle cx="339.8" cy="379.5" r="2.5" fill="#231f20"/>
<circle cx="346.2" cy="364.4" r="2.5" fill="#231f20"/>
<circle cx="362.7" cy="357.3" r="2.5" fill="#231f20"/>
<circle cx="372.3" cy="349.4" r="2.5" fill="#231f20"/>
<circle cx="382.3" cy="351.6" r="2.5" fill="#231f20"/>
<circle cx="395.4" cy="352.7" r="2.5" fill="#231f20"/>
<circle cx="411.5" cy="347.7" r="2.5" fill="#231f20"/>
<circle cx="421.7" cy="345" r="2.5" fill="#231f20"/>
<polyline points="280.6,412.3 293.4,414.2 306.5,414.2 316.8,416 327,414.5 339.8,409.8 346.2,406 362.7,397.3 372.3,389.6 382.3,382 395.4,382 411.5,369.4 421.7,370.8" fill="none" stroke="#9b5fb5" stroke-width="1.9" stroke-linejoin="round"/>
<circle cx="280.6" cy="412.3" r="2.5" fill="#9b5fb5"/>
<circle cx="293.4" cy="414.2" r="2.5" fill="#9b5fb5"/>
<circle cx="306.5" cy="414.2" r="2.5" fill="#9b5fb5"/>
<circle cx="316.8" cy="416" r="2.5" fill="#9b5fb5"/>
<circle cx="327" cy="414.5" r="2.5" fill="#9b5fb5"/>
<circle cx="339.8" cy="409.8" r="2.5" fill="#9b5fb5"/>
<circle cx="346.2" cy="406" r="2.5" fill="#9b5fb5"/>
<circle cx="362.7" cy="397.3" r="2.5" fill="#9b5fb5"/>
<circle cx="372.3" cy="389.6" r="2.5" fill="#9b5fb5"/>
<circle cx="382.3" cy="382" r="2.5" fill="#9b5fb5"/>
<circle cx="395.4" cy="382" r="2.5" fill="#9b5fb5"/>
<circle cx="411.5" cy="369.4" r="2.5" fill="#9b5fb5"/>
<circle cx="421.7" cy="370.8" r="2.5" fill="#9b5fb5"/>
<polyline points="280.6,412.3 293.4,408 306.5,406.5 316.8,411.5 327,412.6 339.8,410 346.2,408 362.7,397.3 372.3,395 382.3,397.3 395.4,400.8 411.5,383.5 421.7,389.2" fill="none" stroke="#0f7d3f" stroke-width="1.9" stroke-linejoin="round"/>
<circle cx="280.6" cy="412.3" r="2.5" fill="#0f7d3f"/>
<circle cx="293.4" cy="408" r="2.5" fill="#0f7d3f"/>
<circle cx="306.5" cy="406.5" r="2.5" fill="#0f7d3f"/>
<circle cx="316.8" cy="411.5" r="2.5" fill="#0f7d3f"/>
<circle cx="327" cy="412.6" r="2.5" fill="#0f7d3f"/>
<circle cx="339.8" cy="410" r="2.5" fill="#0f7d3f"/>
<circle cx="346.2" cy="408" r="2.5" fill="#0f7d3f"/>
<circle cx="362.7" cy="397.3" r="2.5" fill="#0f7d3f"/>
<circle cx="372.3" cy="395" r="2.5" fill="#0f7d3f"/>
<circle cx="382.3" cy="397.3" r="2.5" fill="#0f7d3f"/>
<circle cx="395.4" cy="400.8" r="2.5" fill="#0f7d3f"/>
<circle cx="411.5" cy="383.5" r="2.5" fill="#0f7d3f"/>
<circle cx="421.7" cy="389.2" r="2.5" fill="#0f7d3f"/>
<polyline points="280.6,412.3 293.4,407 306.5,409 316.8,416 327,418 339.8,418 346.2,417.5 362.7,415.6 372.3,414.6 382.3,411.2 395.4,409.2 411.5,407.3 421.7,403.7" fill="none" stroke="#f7a13a" stroke-width="1.9" stroke-linejoin="round"/>
<circle cx="280.6" cy="412.3" r="2.5" fill="#f7a13a"/>
<circle cx="293.4" cy="407" r="2.5" fill="#f7a13a"/>
<circle cx="306.5" cy="409" r="2.5" fill="#f7a13a"/>
<circle cx="316.8" cy="416" r="2.5" fill="#f7a13a"/>
<circle cx="327" cy="418" r="2.5" fill="#f7a13a"/>
<circle cx="339.8" cy="418" r="2.5" fill="#f7a13a"/>
<circle cx="346.2" cy="417.5" r="2.5" fill="#f7a13a"/>
<circle cx="362.7" cy="415.6" r="2.5" fill="#f7a13a"/>
<circle cx="372.3" cy="414.6" r="2.5" fill="#f7a13a"/>
<circle cx="382.3" cy="411.2" r="2.5" fill="#f7a13a"/>
<circle cx="395.4" cy="409.2" r="2.5" fill="#f7a13a"/>
<circle cx="411.5" cy="407.3" r="2.5" fill="#f7a13a"/>
<circle cx="421.7" cy="403.7" r="2.5" fill="#f7a13a"/>
<polyline points="280.6,412.3 293.4,410.8 306.5,410.5 316.8,416 327,418 339.8,418.8 346.2,418.5 362.7,417.5 372.3,420.8 382.3,421.3 395.4,421.3 411.5,420.4 421.7,420.4" fill="none" stroke="#2e4aa0" stroke-width="1.9" stroke-linejoin="round"/>
<circle cx="280.6" cy="412.3" r="2.5" fill="#2e4aa0"/>
<circle cx="293.4" cy="410.8" r="2.5" fill="#2e4aa0"/>
<circle cx="306.5" cy="410.5" r="2.5" fill="#2e4aa0"/>
<circle cx="316.8" cy="416" r="2.5" fill="#2e4aa0"/>
<circle cx="327" cy="418" r="2.5" fill="#2e4aa0"/>
<circle cx="339.8" cy="418.8" r="2.5" fill="#2e4aa0"/>
<circle cx="346.2" cy="418.5" r="2.5" fill="#2e4aa0"/>
<circle cx="362.7" cy="417.5" r="2.5" fill="#2e4aa0"/>
<circle cx="372.3" cy="420.8" r="2.5" fill="#2e4aa0"/>
<circle cx="382.3" cy="421.3" r="2.5" fill="#2e4aa0"/>
<circle cx="395.4" cy="421.3" r="2.5" fill="#2e4aa0"/>
<circle cx="411.5" cy="420.4" r="2.5" fill="#2e4aa0"/>
<circle cx="421.7" cy="420.4" r="2.5" fill="#2e4aa0"/>
<polyline points="280.6,412.3 293.4,405.8 306.5,410.8 316.8,417 327,419.2 339.8,417.7 346.2,417.5 362.7,415.6 372.3,416.2 382.3,418 395.4,418.8 411.5,417.5 421.7,418.5" fill="none" stroke="#e8222a" stroke-width="1.9" stroke-linejoin="round"/>
<path d="M277.6,409.9 L283.6,409.9 L280.6,415.3Z" fill="#e8222a"/>
<path d="M290.4,403.4 L296.4,403.4 L293.4,408.8Z" fill="#e8222a"/>
<path d="M303.5,408.4 L309.5,408.4 L306.5,413.8Z" fill="#e8222a"/>
<path d="M313.8,414.6 L319.8,414.6 L316.8,420Z" fill="#e8222a"/>
<path d="M324,416.8 L330,416.8 L327,422.2Z" fill="#e8222a"/>
<path d="M336.8,415.3 L342.8,415.3 L339.8,420.7Z" fill="#e8222a"/>
<path d="M343.2,415.1 L349.2,415.1 L346.2,420.5Z" fill="#e8222a"/>
<path d="M359.7,413.2 L365.7,413.2 L362.7,418.6Z" fill="#e8222a"/>
<path d="M369.3,413.8 L375.3,413.8 L372.3,419.2Z" fill="#e8222a"/>
<path d="M379.3,415.6 L385.3,415.6 L382.3,421Z" fill="#e8222a"/>
<path d="M392.4,416.4 L398.4,416.4 L395.4,421.8Z" fill="#e8222a"/>
<path d="M408.5,415.1 L414.5,415.1 L411.5,420.5Z" fill="#e8222a"/>
<path d="M418.7,416.1 L424.7,416.1 L421.7,421.5Z" fill="#e8222a"/>
<circle cx="428" cy="370.8" r="1.25" fill="#231f20"/>
<circle cx="431.3" cy="370.8" r="1.25" fill="#231f20"/>
<circle cx="434.6" cy="370.8" r="1.25" fill="#231f20"/>
<circle cx="437.9" cy="370.8" r="1.25" fill="#231f20"/>
<circle cx="428" cy="390" r="1.25" fill="#231f20"/>
<circle cx="431.3" cy="390" r="1.25" fill="#231f20"/>
<circle cx="434.6" cy="390" r="1.25" fill="#231f20"/>
<circle cx="437.9" cy="390" r="1.25" fill="#231f20"/>
<circle cx="428" cy="403.5" r="1.25" fill="#231f20"/>
<circle cx="431.3" cy="403.5" r="1.25" fill="#231f20"/>
<circle cx="434.6" cy="403.5" r="1.25" fill="#231f20"/>
<circle cx="437.9" cy="403.5" r="1.25" fill="#231f20"/>
<circle cx="428" cy="414.6" r="1.25" fill="#231f20"/>
<circle cx="431.3" cy="414.6" r="1.25" fill="#231f20"/>
<circle cx="434.6" cy="414.6" r="1.25" fill="#231f20"/>
<circle cx="437.9" cy="414.6" r="1.25" fill="#231f20"/>
<circle cx="428" cy="420.8" r="1.25" fill="#231f20"/>
<circle cx="431.3" cy="420.8" r="1.25" fill="#231f20"/>
<circle cx="434.6" cy="420.8" r="1.25" fill="#231f20"/>
<circle cx="437.9" cy="420.8" r="1.25" fill="#231f20"/>
<line x1="455.6" y1="340.2" x2="465.2" y2="340.2" stroke="#f7a13a" stroke-width="1.9"/>
<circle cx="460.4" cy="340.2" r="2.3" fill="#f7a13a"/>
<text x="471.5" y="343.2" font-size="8.4" fill="#282828" >CAR 3 R2S</text>
<line x1="455.6" y1="353.7" x2="465.2" y2="353.7" stroke="#9b5fb5" stroke-width="1.9"/>
<circle cx="460.4" cy="353.7" r="2.3" fill="#9b5fb5"/>
<text x="471.5" y="356.7" font-size="8.4" fill="#282828" >CAR 9 R2S</text>
<line x1="455.6" y1="367.1" x2="465.2" y2="367.1" stroke="#0f7d3f" stroke-width="1.9"/>
<circle cx="460.4" cy="367.1" r="2.3" fill="#0f7d3f"/>
<text x="471.5" y="370.1" font-size="8.4" fill="#282828" >CAR 14 SR2</text>
<line x1="455.6" y1="380.6" x2="465.2" y2="380.6" stroke="#2e4aa0" stroke-width="1.9"/>
<circle cx="460.4" cy="380.6" r="2.3" fill="#2e4aa0"/>
<text x="471.5" y="383.6" font-size="8.4" fill="#282828" >CAR 17 R2S</text>
<line x1="455.6" y1="394" x2="465.2" y2="394" stroke="#e8222a" stroke-width="1.9"/>
<path d="M457.64,391.79 L463.16,391.79 L460.4,396.76Z" fill="#e8222a"/>
<text x="471.5" y="397" font-size="8.4" fill="#282828" >CAR 23 QR3</text>
<line x1="455.6" y1="408" x2="465.2" y2="408" stroke="#231f20" stroke-width="1.9"/>
<circle cx="460.4" cy="408" r="2.3" fill="#231f20"/>
<text x="471.5" y="411" font-size="8.4" fill="#282828" >NTD</text>
<text x="5.4" y="473.5" font-size="14" fill="#000" font-weight="bold" >G</text>
<text x="92.9" y="486.7" font-size="10.4" fill="#231f20" font-weight="bold" textLength="29.2" lengthAdjust="spacingAndGlyphs" >ACHN</text>
<line x1="28.4" y1="485" x2="28.4" y2="584.9" stroke="#231f20" stroke-width="1.3"/>
<line x1="27.9" y1="584.4" x2="177.8" y2="584.4" stroke="#231f20" stroke-width="1.3"/>
<line x1="25.9" y1="579.2" x2="28.4" y2="579.2" stroke="#231f20" stroke-width="0.9"/>
<text x="20" y="581.9" font-size="7.6" fill="#231f20" font-weight="bold" text-anchor="end" >10</text>
<text x="20.5" y="578.4" font-size="4.8" fill="#231f20" font-weight="bold" >6</text>
<line x1="25.9" y1="547.5" x2="28.4" y2="547.5" stroke="#231f20" stroke-width="0.9"/>
<text x="20" y="550.2" font-size="7.6" fill="#231f20" font-weight="bold" text-anchor="end" >10</text>
<text x="20.5" y="546.7" font-size="4.8" fill="#231f20" font-weight="bold" >7</text>
<line x1="25.9" y1="515.8" x2="28.4" y2="515.8" stroke="#231f20" stroke-width="0.9"/>
<text x="20" y="518.5" font-size="7.6" fill="#231f20" font-weight="bold" text-anchor="end" >10</text>
<text x="20.5" y="515" font-size="4.8" fill="#231f20" font-weight="bold" >8</text>
<line x1="25.9" y1="484.1" x2="28.4" y2="484.1" stroke="#231f20" stroke-width="0.9"/>
<text x="20" y="486.8" font-size="7.6" fill="#231f20" font-weight="bold" text-anchor="end" >10</text>
<text x="20.5" y="483.3" font-size="4.8" fill="#231f20" font-weight="bold" >9</text>
<line x1="31.3" y1="584.4" x2="31.3" y2="587.4" stroke="#231f20" stroke-width="1"/>
<text x="34.1" y="595.5" font-size="7.5" fill="#231f20" font-weight="bold" text-anchor="end" transform="rotate(-45 34.1 595.5)" >0</text>
<line x1="47.55" y1="584.4" x2="47.55" y2="587.4" stroke="#231f20" stroke-width="1"/>
<text x="50.35" y="595.5" font-size="7.5" fill="#231f20" font-weight="bold" text-anchor="end" transform="rotate(-45 50.35 595.5)" >5</text>
<line x1="63.8" y1="584.4" x2="63.8" y2="587.4" stroke="#231f20" stroke-width="1"/>
<text x="66.6" y="595.5" font-size="7.5" fill="#231f20" font-weight="bold" text-anchor="end" transform="rotate(-45 66.6 595.5)" >10</text>
<line x1="80.05" y1="584.4" x2="80.05" y2="587.4" stroke="#231f20" stroke-width="1"/>
<text x="82.85" y="595.5" font-size="7.5" fill="#231f20" font-weight="bold" text-anchor="end" transform="rotate(-45 82.85 595.5)" >15</text>
<line x1="96.3" y1="584.4" x2="96.3" y2="587.4" stroke="#231f20" stroke-width="1"/>
<text x="99.1" y="595.5" font-size="7.5" fill="#231f20" font-weight="bold" text-anchor="end" transform="rotate(-45 99.1 595.5)" >20</text>
<line x1="112.55" y1="584.4" x2="112.55" y2="587.4" stroke="#231f20" stroke-width="1"/>
<text x="115.35" y="595.5" font-size="7.5" fill="#231f20" font-weight="bold" text-anchor="end" transform="rotate(-45 115.35 595.5)" >25</text>
<line x1="128.8" y1="584.4" x2="128.8" y2="587.4" stroke="#231f20" stroke-width="1"/>
<text x="131.6" y="595.5" font-size="7.5" fill="#231f20" font-weight="bold" text-anchor="end" transform="rotate(-45 131.6 595.5)" >30</text>
<line x1="145.05" y1="584.4" x2="145.05" y2="587.4" stroke="#231f20" stroke-width="1"/>
<text x="147.85" y="595.5" font-size="7.5" fill="#231f20" font-weight="bold" text-anchor="end" transform="rotate(-45 147.85 595.5)" >35</text>
<line x1="161.3" y1="584.4" x2="161.3" y2="587.4" stroke="#231f20" stroke-width="1"/>
<text x="164.1" y="595.5" font-size="7.5" fill="#231f20" font-weight="bold" text-anchor="end" transform="rotate(-45 164.1 595.5)" >40</text>
<line x1="177.55" y1="584.4" x2="177.55" y2="587.4" stroke="#231f20" stroke-width="1"/>
<text x="180.35" y="595.5" font-size="7.5" fill="#231f20" font-weight="bold" text-anchor="end" transform="rotate(-45 180.35 595.5)" >45</text>
<text x="52.9" y="614.2" font-size="8.4" fill="#231f20" font-weight="bold" textLength="97.5" lengthAdjust="spacingAndGlyphs" >Days post CAR treatment</text>
<text x="7.5" y="535.3" font-size="8.2" fill="#231f20" font-weight="bold" text-anchor="middle" textLength="56.4" lengthAdjust="spacingAndGlyphs" transform="rotate(-90 7.5 535.3)" >Total flux [p/s]</text>
<path d="M28.5,537.2V543.2M26.7,537.2H30.3M26.7,543.2H30.3" stroke="#231f20" stroke-width="1" fill="none"/>
<path d="M41,526.8V530.8M39.2,526.8H42.8M39.2,530.8H42.8" stroke="#231f20" stroke-width="1" fill="none"/>
<path d="M50.6,519.2V525.2M48.8,519.2H52.4M48.8,525.2H52.4" stroke="#231f20" stroke-width="1" fill="none"/>
<path d="M63.6,513V517M61.8,513H65.4M61.8,517H65.4" stroke="#231f20" stroke-width="1" fill="none"/>
<path d="M118.8,516V530M117,516H120.6M117,530H120.6" stroke="#231f20" stroke-width="1" fill="none"/>
<path d="M28.5,537.2V543.2M26.7,537.2H30.3M26.7,543.2H30.3" stroke="#0f7d3f" stroke-width="1" fill="none" stroke-opacity="0.7"/>
<path d="M41,535V539M39.2,535H42.8M39.2,539H42.8" stroke="#0f7d3f" stroke-width="1" fill="none" stroke-opacity="0.7"/>
<path d="M50.6,552.6V556.6M48.8,552.6H52.4M48.8,556.6H52.4" stroke="#0f7d3f" stroke-width="1" fill="none" stroke-opacity="0.7"/>
<path d="M63.6,553.5V557.5M61.8,553.5H65.4M61.8,557.5H65.4" stroke="#0f7d3f" stroke-width="1" fill="none" stroke-opacity="0.7"/>
<path d="M73.3,554.5V558.5M71.5,554.5H75.1M71.5,558.5H75.1" stroke="#0f7d3f" stroke-width="1" fill="none" stroke-opacity="0.7"/>
<path d="M86.7,550.5V554.5M84.9,550.5H88.5M84.9,554.5H88.5" stroke="#0f7d3f" stroke-width="1" fill="none" stroke-opacity="0.7"/>
<path d="M96.3,549.5V553.5M94.5,549.5H98.1M94.5,553.5H98.1" stroke="#0f7d3f" stroke-width="1" fill="none" stroke-opacity="0.7"/>
<path d="M108.8,548.5V554.5M107,548.5H110.6M107,554.5H110.6" stroke="#0f7d3f" stroke-width="1" fill="none" stroke-opacity="0.7"/>
<path d="M118.8,547V553M117,547H120.6M117,553H120.6" stroke="#0f7d3f" stroke-width="1" fill="none" stroke-opacity="0.7"/>
<path d="M131.5,549.8V557.8M129.7,549.8H133.3M129.7,557.8H133.3" stroke="#0f7d3f" stroke-width="1" fill="none" stroke-opacity="0.7"/>
<path d="M141.5,543.7V551.7M139.7,543.7H143.3M139.7,551.7H143.3" stroke="#0f7d3f" stroke-width="1" fill="none" stroke-opacity="0.7"/>
<path d="M154.6,543.7V553.7M152.8,543.7H156.4M152.8,553.7H156.4" stroke="#0f7d3f" stroke-width="1" fill="none" stroke-opacity="0.7"/>
<path d="M164.2,546V554M162.4,546H166M162.4,554H166" stroke="#0f7d3f" stroke-width="1" fill="none" stroke-opacity="0.7"/>
<path d="M28.5,537.2V543.2M26.7,537.2H30.3M26.7,543.2H30.3" stroke="#9b5fb5" stroke-width="1" fill="none" stroke-opacity="0.7"/>
<path d="M41,535V539M39.2,535H42.8M39.2,539H42.8" stroke="#9b5fb5" stroke-width="1" fill="none" stroke-opacity="0.7"/>
<path d="M50.6,543V549M48.8,543H52.4M48.8,549H52.4" stroke="#9b5fb5" stroke-width="1" fill="none" stroke-opacity="0.7"/>
<path d="M63.6,550.6V558.6M61.8,550.6H65.4M61.8,558.6H65.4" stroke="#9b5fb5" stroke-width="1" fill="none" stroke-opacity="0.7"/>
<path d="M73.3,551.6V559.6M71.5,551.6H75.1M71.5,559.6H75.1" stroke="#9b5fb5" stroke-width="1" fill="none" stroke-opacity="0.7"/>
<path d="M86.7,546.5V556.5M84.9,546.5H88.5M84.9,556.5H88.5" stroke="#9b5fb5" stroke-width="1" fill="none" stroke-opacity="0.7"/>
<path d="M96.3,546.2V556.2M94.5,546.2H98.1M94.5,556.2H98.1" stroke="#9b5fb5" stroke-width="1" fill="none" stroke-opacity="0.7"/>
<path d="M108.8,543.7V553.7M107,543.7H110.6M107,553.7H110.6" stroke="#9b5fb5" stroke-width="1" fill="none" stroke-opacity="0.7"/>
<path d="M118.8,536.8V554.8M117,536.8H120.6M117,554.8H120.6" stroke="#9b5fb5" stroke-width="1" fill="none" stroke-opacity="0.7"/>
<path d="M131.5,536.8V552.8M129.7,536.8H133.3M129.7,552.8H133.3" stroke="#9b5fb5" stroke-width="1" fill="none" stroke-opacity="0.7"/>
<path d="M141.5,532V552M139.7,532H143.3M139.7,552H143.3" stroke="#9b5fb5" stroke-width="1" fill="none" stroke-opacity="0.7"/>
<path d="M154.6,530V550M152.8,530H156.4M152.8,550H156.4" stroke="#9b5fb5" stroke-width="1" fill="none" stroke-opacity="0.7"/>
<path d="M164.2,525.8V545.8M162.4,525.8H166M162.4,545.8H166" stroke="#9b5fb5" stroke-width="1" fill="none" stroke-opacity="0.7"/>
<path d="M28.5,537.2V543.2M26.7,537.2H30.3M26.7,543.2H30.3" stroke="#f7a13a" stroke-width="1" fill="none" stroke-opacity="0.7"/>
<path d="M41,530.5V534.5M39.2,530.5H42.8M39.2,534.5H42.8" stroke="#f7a13a" stroke-width="1" fill="none" stroke-opacity="0.7"/>
<path d="M50.6,549V555M48.8,549H52.4M48.8,555H52.4" stroke="#f7a13a" stroke-width="1" fill="none" stroke-opacity="0.7"/>
<path d="M63.6,561.3V565.3M61.8,561.3H65.4M61.8,565.3H65.4" stroke="#f7a13a" stroke-width="1" fill="none" stroke-opacity="0.7"/>
<path d="M73.3,561.8V565.8M71.5,561.8H75.1M71.5,565.8H75.1" stroke="#f7a13a" stroke-width="1" fill="none" stroke-opacity="0.7"/>
<path d="M86.7,559.5V563.5M84.9,559.5H88.5M84.9,563.5H88.5" stroke="#f7a13a" stroke-width="1" fill="none" stroke-opacity="0.7"/>
<path d="M96.3,557.2V561.2M94.5,557.2H98.1M94.5,561.2H98.1" stroke="#f7a13a" stroke-width="1" fill="none" stroke-opacity="0.7"/>
<path d="M108.8,563.5V569.5M107,563.5H110.6M107,569.5H110.6" stroke="#f7a13a" stroke-width="1" fill="none" stroke-opacity="0.7"/>
<path d="M118.8,557.8V563.8M117,557.8H120.6M117,563.8H120.6" stroke="#f7a13a" stroke-width="1" fill="none" stroke-opacity="0.7"/>
<path d="M131.5,555.3V562.3M129.7,555.3H133.3M129.7,562.3H133.3" stroke="#f7a13a" stroke-width="1" fill="none" stroke-opacity="0.7"/>
<path d="M141.5,558.2V562.2M139.7,558.2H143.3M139.7,562.2H143.3" stroke="#f7a13a" stroke-width="1" fill="none" stroke-opacity="0.7"/>
<path d="M154.6,559.2V563.2M152.8,559.2H156.4M152.8,563.2H156.4" stroke="#f7a13a" stroke-width="1" fill="none" stroke-opacity="0.7"/>
<path d="M164.2,560.1V564.1M162.4,560.1H166M162.4,564.1H166" stroke="#f7a13a" stroke-width="1" fill="none" stroke-opacity="0.7"/>
<path d="M28.5,537.2V543.2M26.7,537.2H30.3M26.7,543.2H30.3" stroke="#2e4aa0" stroke-width="1" fill="none" stroke-opacity="0.7"/>
<path d="M41,536V540M39.2,536H42.8M39.2,540H42.8" stroke="#2e4aa0" stroke-width="1" fill="none" stroke-opacity="0.7"/>
<path d="M50.6,567.4V573.4M48.8,567.4H52.4M48.8,573.4H52.4" stroke="#2e4aa0" stroke-width="1" fill="none" stroke-opacity="0.7"/>
<path d="M63.6,571.8V577.8M61.8,571.8H65.4M61.8,577.8H65.4" stroke="#2e4aa0" stroke-width="1" fill="none" stroke-opacity="0.7"/>
<path d="M28.5,537.2V543.2M26.7,537.2H30.3M26.7,543.2H30.3" stroke="#e8222a" stroke-width="1" fill="none" stroke-opacity="0.7"/>
<path d="M41,537.2V541.2M39.2,537.2H42.8M39.2,541.2H42.8" stroke="#e8222a" stroke-width="1" fill="none" stroke-opacity="0.7"/>
<path d="M50.6,556.4V562.4M48.8,556.4H52.4M48.8,562.4H52.4" stroke="#e8222a" stroke-width="1" fill="none" stroke-opacity="0.7"/>
<path d="M63.6,567V571M61.8,567H65.4M61.8,571H65.4" stroke="#e8222a" stroke-width="1" fill="none" stroke-opacity="0.7"/>
<path d="M73.3,568V574M71.5,568H75.1M71.5,574H75.1" stroke="#e8222a" stroke-width="1" fill="none" stroke-opacity="0.7"/>
<path d="M86.7,571.7V575.7M84.9,571.7H88.5M84.9,575.7H88.5" stroke="#e8222a" stroke-width="1" fill="none" stroke-opacity="0.7"/>
<path d="M96.3,570.3V574.3M94.5,570.3H98.1M94.5,574.3H98.1" stroke="#e8222a" stroke-width="1" fill="none" stroke-opacity="0.7"/>
<path d="M108.8,571V575M107,571H110.6M107,575H110.6" stroke="#e8222a" stroke-width="1" fill="none" stroke-opacity="0.7"/>
<path d="M118.8,569.2V573.2M117,569.2H120.6M117,573.2H120.6" stroke="#e8222a" stroke-width="1" fill="none" stroke-opacity="0.7"/>
<path d="M131.5,566.8V574.8M129.7,566.8H133.3M129.7,574.8H133.3" stroke="#e8222a" stroke-width="1" fill="none" stroke-opacity="0.7"/>
<path d="M141.5,566.8V570.8M139.7,566.8H143.3M139.7,570.8H143.3" stroke="#e8222a" stroke-width="1" fill="none" stroke-opacity="0.7"/>
<path d="M154.6,567.7V574.7M152.8,567.7H156.4M152.8,574.7H156.4" stroke="#e8222a" stroke-width="1" fill="none" stroke-opacity="0.7"/>
<path d="M164.2,561.5V570.5M162.4,561.5H166M162.4,570.5H166" stroke="#e8222a" stroke-width="1" fill="none" stroke-opacity="0.7"/>
<polyline points="28.5,540.2 41,528.8 50.6,522.2 63.6,515 73.3,510.4 86.7,508.3 96.3,510.8 108.8,516.3 118.8,523 131.5,518.5 141.5,515.4 154.6,512 164.2,508.3" fill="none" stroke="#231f20" stroke-width="1.9" stroke-linejoin="round"/>
<circle cx="28.5" cy="540.2" r="2.5" fill="#231f20"/>
<circle cx="41" cy="528.8" r="2.5" fill="#231f20"/>
<circle cx="50.6" cy="522.2" r="2.5" fill="#231f20"/>
<circle cx="63.6" cy="515" r="2.5" fill="#231f20"/>
<circle cx="73.3" cy="510.4" r="2.5" fill="#231f20"/>
<circle cx="86.7" cy="508.3" r="2.5" fill="#231f20"/>
<circle cx="96.3" cy="510.8" r="2.5" fill="#231f20"/>
<circle cx="108.8" cy="516.3" r="2.5" fill="#231f20"/>
<circle cx="118.8" cy="523" r="2.5" fill="#231f20"/>
<circle cx="131.5" cy="518.5" r="2.5" fill="#231f20"/>
<circle cx="141.5" cy="515.4" r="2.5" fill="#231f20"/>
<circle cx="154.6" cy="512" r="2.5" fill="#231f20"/>
<circle cx="164.2" cy="508.3" r="2.5" fill="#231f20"/>
<polyline points="28.5,540.2 41,537 50.6,554.6 63.6,555.5 73.3,556.5 86.7,552.5 96.3,551.5 108.8,551.5 118.8,550 131.5,553.8 141.5,547.7 154.6,548.7 164.2,550" fill="none" stroke="#0f7d3f" stroke-width="1.9" stroke-linejoin="round"/>
<circle cx="28.5" cy="540.2" r="2.5" fill="#0f7d3f"/>
<circle cx="41" cy="537" r="2.5" fill="#0f7d3f"/>
<circle cx="50.6" cy="554.6" r="2.5" fill="#0f7d3f"/>
<circle cx="63.6" cy="555.5" r="2.5" fill="#0f7d3f"/>
<circle cx="73.3" cy="556.5" r="2.5" fill="#0f7d3f"/>
<circle cx="86.7" cy="552.5" r="2.5" fill="#0f7d3f"/>
<circle cx="96.3" cy="551.5" r="2.5" fill="#0f7d3f"/>
<circle cx="108.8" cy="551.5" r="2.5" fill="#0f7d3f"/>
<circle cx="118.8" cy="550" r="2.5" fill="#0f7d3f"/>
<circle cx="131.5" cy="553.8" r="2.5" fill="#0f7d3f"/>
<circle cx="141.5" cy="547.7" r="2.5" fill="#0f7d3f"/>
<circle cx="154.6" cy="548.7" r="2.5" fill="#0f7d3f"/>
<circle cx="164.2" cy="550" r="2.5" fill="#0f7d3f"/>
<polyline points="28.5,540.2 41,537 50.6,546 63.6,554.6 73.3,555.6 86.7,551.5 96.3,551.2 108.8,548.7 118.8,545.8 131.5,544.8 141.5,542 154.6,540 164.2,535.8" fill="none" stroke="#9b5fb5" stroke-width="1.9" stroke-linejoin="round"/>
<circle cx="28.5" cy="540.2" r="2.5" fill="#9b5fb5"/>
<circle cx="41" cy="537" r="2.5" fill="#9b5fb5"/>
<circle cx="50.6" cy="546" r="2.5" fill="#9b5fb5"/>
<circle cx="63.6" cy="554.6" r="2.5" fill="#9b5fb5"/>
<circle cx="73.3" cy="555.6" r="2.5" fill="#9b5fb5"/>
<circle cx="86.7" cy="551.5" r="2.5" fill="#9b5fb5"/>
<circle cx="96.3" cy="551.2" r="2.5" fill="#9b5fb5"/>
<circle cx="108.8" cy="548.7" r="2.5" fill="#9b5fb5"/>
<circle cx="118.8" cy="545.8" r="2.5" fill="#9b5fb5"/>
<circle cx="131.5" cy="544.8" r="2.5" fill="#9b5fb5"/>
<circle cx="141.5" cy="542" r="2.5" fill="#9b5fb5"/>
<circle cx="154.6" cy="540" r="2.5" fill="#9b5fb5"/>
<circle cx="164.2" cy="535.8" r="2.5" fill="#9b5fb5"/>
<polyline points="28.5,540.2 41,532.5 50.6,552 63.6,563.3 73.3,563.8 86.7,561.5 96.3,559.2 108.8,566.5 118.8,560.8 131.5,558.8 141.5,560.2 154.6,561.2 164.2,562.1" fill="none" stroke="#f7a13a" stroke-width="1.9" stroke-linejoin="round"/>
<circle cx="28.5" cy="540.2" r="2.5" fill="#f7a13a"/>
<circle cx="41" cy="532.5" r="2.5" fill="#f7a13a"/>
<circle cx="50.6" cy="552" r="2.5" fill="#f7a13a"/>
<circle cx="63.6" cy="563.3" r="2.5" fill="#f7a13a"/>
<circle cx="73.3" cy="563.8" r="2.5" fill="#f7a13a"/>
<circle cx="86.7" cy="561.5" r="2.5" fill="#f7a13a"/>
<circle cx="96.3" cy="559.2" r="2.5" fill="#f7a13a"/>
<circle cx="108.8" cy="566.5" r="2.5" fill="#f7a13a"/>
<circle cx="118.8" cy="560.8" r="2.5" fill="#f7a13a"/>
<circle cx="131.5" cy="558.8" r="2.5" fill="#f7a13a"/>
<circle cx="141.5" cy="560.2" r="2.5" fill="#f7a13a"/>
<circle cx="154.6" cy="561.2" r="2.5" fill="#f7a13a"/>
<circle cx="164.2" cy="562.1" r="2.5" fill="#f7a13a"/>
<polyline points="28.5,540.2 41,538 50.6,570.4 63.6,574.8 73.3,579.6 86.7,579.4 96.3,580.4 108.8,583.3 118.8,580 131.5,582 141.5,582.7 154.6,582.7 164.2,584.2" fill="none" stroke="#2e4aa0" stroke-width="1.9" stroke-linejoin="round"/>
<circle cx="28.5" cy="540.2" r="2.5" fill="#2e4aa0"/>
<circle cx="41" cy="538" r="2.5" fill="#2e4aa0"/>
<circle cx="50.6" cy="570.4" r="2.5" fill="#2e4aa0"/>
<circle cx="63.6" cy="574.8" r="2.5" fill="#2e4aa0"/>
<circle cx="73.3" cy="579.6" r="2.5" fill="#2e4aa0"/>
<circle cx="86.7" cy="579.4" r="2.5" fill="#2e4aa0"/>
<circle cx="96.3" cy="580.4" r="2.5" fill="#2e4aa0"/>
<circle cx="108.8" cy="583.3" r="2.5" fill="#2e4aa0"/>
<circle cx="118.8" cy="580" r="2.5" fill="#2e4aa0"/>
<circle cx="131.5" cy="582" r="2.5" fill="#2e4aa0"/>
<circle cx="141.5" cy="582.7" r="2.5" fill="#2e4aa0"/>
<circle cx="154.6" cy="582.7" r="2.5" fill="#2e4aa0"/>
<circle cx="164.2" cy="584.2" r="2.5" fill="#2e4aa0"/>
<polyline points="28.5,540.2 41,539.2 50.6,559.4 63.6,569 73.3,571 86.7,573.7 96.3,572.3 108.8,573 118.8,571.2 131.5,570.8 141.5,568.8 154.6,571.2 164.2,566" fill="none" stroke="#e8222a" stroke-width="1.9" stroke-linejoin="round"/>
<path d="M25.5,537.8 L31.5,537.8 L28.5,543.2Z" fill="#e8222a"/>
<path d="M38,536.8 L44,536.8 L41,542.2Z" fill="#e8222a"/>
<path d="M47.6,557 L53.6,557 L50.6,562.4Z" fill="#e8222a"/>
<path d="M60.6,566.6 L66.6,566.6 L63.6,572Z" fill="#e8222a"/>
<path d="M70.3,568.6 L76.3,568.6 L73.3,574Z" fill="#e8222a"/>
<path d="M83.7,571.3 L89.7,571.3 L86.7,576.7Z" fill="#e8222a"/>
<path d="M93.3,569.9 L99.3,569.9 L96.3,575.3Z" fill="#e8222a"/>
<path d="M105.8,570.6 L111.8,570.6 L108.8,576Z" fill="#e8222a"/>
<path d="M115.8,568.8 L121.8,568.8 L118.8,574.2Z" fill="#e8222a"/>
<path d="M128.5,568.4 L134.5,568.4 L131.5,573.8Z" fill="#e8222a"/>
<path d="M138.5,566.4 L144.5,566.4 L141.5,571.8Z" fill="#e8222a"/>
<path d="M151.6,568.8 L157.6,568.8 L154.6,574.2Z" fill="#e8222a"/>
<path d="M161.2,563.6 L167.2,563.6 L164.2,569Z" fill="#e8222a"/>
<circle cx="171.2" cy="536.5" r="1.25" fill="#231f20"/>
<circle cx="174.5" cy="536.5" r="1.25" fill="#231f20"/>
<circle cx="177.8" cy="536.5" r="1.25" fill="#231f20"/>
<circle cx="181.1" cy="536.5" r="1.25" fill="#231f20"/>
<circle cx="171.2" cy="549.2" r="1.25" fill="#231f20"/>
<circle cx="174.5" cy="549.2" r="1.25" fill="#231f20"/>
<circle cx="177.8" cy="549.2" r="1.25" fill="#231f20"/>
<circle cx="181.1" cy="549.2" r="1.25" fill="#231f20"/>
<circle cx="171.2" cy="560.8" r="1.25" fill="#231f20"/>
<circle cx="174.5" cy="560.8" r="1.25" fill="#231f20"/>
<circle cx="177.8" cy="560.8" r="1.25" fill="#231f20"/>
<circle cx="181.1" cy="560.8" r="1.25" fill="#231f20"/>
<circle cx="171.2" cy="570.4" r="1.25" fill="#231f20"/>
<circle cx="174.5" cy="570.4" r="1.25" fill="#231f20"/>
<circle cx="177.8" cy="570.4" r="1.25" fill="#231f20"/>
<circle cx="181.1" cy="570.4" r="1.25" fill="#231f20"/>
<circle cx="171.2" cy="580" r="1.25" fill="#231f20"/>
<circle cx="174.5" cy="580" r="1.25" fill="#231f20"/>
<circle cx="177.8" cy="580" r="1.25" fill="#231f20"/>
<circle cx="181.1" cy="580" r="1.25" fill="#231f20"/>
<line x1="194.4" y1="502.9" x2="205.6" y2="502.9" stroke="#f7a13a" stroke-width="1.9"/>
<circle cx="200" cy="502.9" r="2.3" fill="#f7a13a"/>
<text x="210.7" y="505.9" font-size="8.4" fill="#282828" >CAR 3 R2S</text>
<line x1="194.4" y1="516.2" x2="205.6" y2="516.2" stroke="#9b5fb5" stroke-width="1.9"/>
<circle cx="200" cy="516.2" r="2.3" fill="#9b5fb5"/>
<text x="210.7" y="519.2" font-size="8.4" fill="#282828" >CAR 9 R2S</text>
<line x1="194.4" y1="530" x2="205.6" y2="530" stroke="#0f7d3f" stroke-width="1.9"/>
<circle cx="200" cy="530" r="2.3" fill="#0f7d3f"/>
<text x="210.7" y="533" font-size="8.4" fill="#282828" >CAR 14 SR2</text>
<line x1="194.4" y1="543.8" x2="205.6" y2="543.8" stroke="#2e4aa0" stroke-width="1.9"/>
<circle cx="200" cy="543.8" r="2.3" fill="#2e4aa0"/>
<text x="210.7" y="546.8" font-size="8.4" fill="#282828" >CAR 17 R2S</text>
<line x1="194.4" y1="557.3" x2="205.6" y2="557.3" stroke="#e8222a" stroke-width="1.9"/>
<path d="M197.24,555.09 L202.76,555.09 L200,560.06Z" fill="#e8222a"/>
<text x="210.7" y="560.3" font-size="8.4" fill="#282828" >CAR 23 QR3</text>
<line x1="194.4" y1="571.1" x2="205.6" y2="571.1" stroke="#231f20" stroke-width="1.9"/>
<circle cx="200" cy="571.1" r="2.3" fill="#231f20"/>
<text x="210.7" y="574.1" font-size="8.4" fill="#282828" >NTD</text>
<text x="280.8" y="474.6" font-size="14" fill="#000" font-weight="bold" >H</text>
<text x="360.4" y="483.5" font-size="10.4" fill="#231f20" font-weight="bold" textLength="30" lengthAdjust="spacingAndGlyphs" >ACHN</text>
<line x1="316.5" y1="484.6" x2="316.5" y2="581.5" stroke="#231f20" stroke-width="1.3"/>
<line x1="316" y1="581" x2="460" y2="581" stroke="#231f20" stroke-width="1.3"/>
<line x1="313.8" y1="576.3" x2="316.5" y2="576.3" stroke="#231f20" stroke-width="1"/>
<text x="310.2" y="578.8" font-size="7" fill="#231f20" font-weight="bold" text-anchor="end" >10</text>
<text x="310.4" y="575.4" font-size="4.8" fill="#231f20" font-weight="bold" >6</text>
<line x1="313.8" y1="553.7" x2="316.5" y2="553.7" stroke="#231f20" stroke-width="1"/>
<text x="310.2" y="556.2" font-size="7" fill="#231f20" font-weight="bold" text-anchor="end" >10</text>
<text x="310.4" y="552.8" font-size="4.8" fill="#231f20" font-weight="bold" >7</text>
<line x1="313.8" y1="531.1" x2="316.5" y2="531.1" stroke="#231f20" stroke-width="1"/>
<text x="310.2" y="533.6" font-size="7" fill="#231f20" font-weight="bold" text-anchor="end" >10</text>
<text x="310.4" y="530.2" font-size="4.8" fill="#231f20" font-weight="bold" >8</text>
<line x1="313.8" y1="508.5" x2="316.5" y2="508.5" stroke="#231f20" stroke-width="1"/>
<text x="310.2" y="511" font-size="7" fill="#231f20" font-weight="bold" text-anchor="end" >10</text>
<text x="310.4" y="507.6" font-size="4.8" fill="#231f20" font-weight="bold" >9</text>
<line x1="313.8" y1="485.9" x2="316.5" y2="485.9" stroke="#231f20" stroke-width="1"/>
<text x="307.4" y="488.4" font-size="7" fill="#231f20" font-weight="bold" text-anchor="end" >10</text>
<text x="307.6" y="485" font-size="4.8" fill="#231f20" font-weight="bold" >10</text>
<line x1="320.4" y1="581" x2="320.4" y2="583.8" stroke="#231f20" stroke-width="1"/>
<text x="323.4" y="588.2" font-size="7.3" fill="#231f20" font-weight="bold" text-anchor="end" transform="rotate(-45 323.4 588.2)" >0</text>
<line x1="348.2" y1="581" x2="348.2" y2="583.8" stroke="#231f20" stroke-width="1"/>
<text x="351.2" y="588.2" font-size="7.3" fill="#231f20" font-weight="bold" text-anchor="end" transform="rotate(-45 351.2 588.2)" >5</text>
<line x1="376" y1="581" x2="376" y2="583.8" stroke="#231f20" stroke-width="1"/>
<text x="379" y="588.2" font-size="7.3" fill="#231f20" font-weight="bold" text-anchor="end" transform="rotate(-45 379 588.2)" >10</text>
<line x1="403.8" y1="581" x2="403.8" y2="583.8" stroke="#231f20" stroke-width="1"/>
<text x="406.8" y="588.2" font-size="7.3" fill="#231f20" font-weight="bold" text-anchor="end" transform="rotate(-45 406.8 588.2)" >15</text>
<line x1="431.6" y1="581" x2="431.6" y2="583.8" stroke="#231f20" stroke-width="1"/>
<text x="434.6" y="588.2" font-size="7.3" fill="#231f20" font-weight="bold" text-anchor="end" transform="rotate(-45 434.6 588.2)" >20</text>
<line x1="459.4" y1="581" x2="459.4" y2="583.8" stroke="#231f20" stroke-width="1"/>
<text x="462.4" y="588.2" font-size="7.3" fill="#231f20" font-weight="bold" text-anchor="end" transform="rotate(-45 462.4 588.2)" >25</text>
<text x="337.7" y="608.4" font-size="8.4" fill="#231f20" font-weight="bold" textLength="100.6" lengthAdjust="spacingAndGlyphs" >Days post CAR T treatment</text>
<text x="296" y="531.6" font-size="8.2" fill="#231f20" font-weight="bold" text-anchor="middle" textLength="54" lengthAdjust="spacingAndGlyphs" transform="rotate(-90 296 531.6)" >Total flux [p/s]</text>
<path d="M377,549.7V551.7M375.4,549.7H378.6M375.4,551.7H378.6" stroke="#231f20" stroke-width="0.8" fill="none"/>
<path d="M398.8,548.8V558.8M397.2,548.8H400.4M397.2,558.8H400.4" stroke="#231f20" stroke-width="0.8" fill="none"/>
<path d="M415.8,542.3V552.3M414.2,542.3H417.4M414.2,552.3H417.4" stroke="#231f20" stroke-width="0.8" fill="none"/>
<path d="M437.6,538V544M436,538H439.2M436,544H439.2" stroke="#231f20" stroke-width="0.8" fill="none"/>
<path d="M437.6,504.9V509.9M436,504.9H439.2M436,509.9H439.2" stroke="#231f20" stroke-width="0.8" fill="none"/>
<polyline points="317.5,523.8 338.5,518.6 360.5,513.8 377,509.9 398.8,504.2 415.8,502.3 437.6,507.4" fill="none" stroke="#231f20" stroke-width="1.4" stroke-linejoin="round"/>
<polyline points="317.5,523.8 338.5,518.4 360.5,513.7 377,509.7 398.8,503.8 415.8,502.3 437.6,500.5" fill="none" stroke="#231f20" stroke-width="1.4" stroke-linejoin="round"/>
<polyline points="317.5,523.8 338.5,524 360.5,517 377,515.4 398.8,507 415.8,502.3 437.6,497.7" fill="none" stroke="#231f20" stroke-width="1.4" stroke-linejoin="round"/>
<polyline points="317.5,523.8 338.5,532 360.5,548 377,550.7 398.8,553.8 415.8,547.3 437.6,541" fill="none" stroke="#231f20" stroke-width="1.4" stroke-linejoin="round"/>
<path d="M317.5,520.58 L320.72,523.8 L317.5,527.02 L314.28,523.8Z" fill="#231f20" stroke="#231f20" stroke-width="0.8"/>
<path d="M338.5,515.38 L341.72,518.6 L338.5,521.82 L335.28,518.6Z" fill="#231f20" stroke="#231f20" stroke-width="0.8"/>
<path d="M360.5,510.58 L363.72,513.8 L360.5,517.02 L357.28,513.8Z" fill="#231f20" stroke="#231f20" stroke-width="0.8"/>
<path d="M377,506.68 L380.22,509.9 L377,513.12 L373.78,509.9Z" fill="#231f20" stroke="#231f20" stroke-width="0.8"/>
<path d="M398.8,500.98 L402.02,504.2 L398.8,507.42 L395.58,504.2Z" fill="#231f20" stroke="#231f20" stroke-width="0.8"/>
<path d="M415.8,499.08 L419.02,502.3 L415.8,505.52 L412.58,502.3Z" fill="#231f20" stroke="#231f20" stroke-width="0.8"/>
<path d="M437.6,504.18 L440.82,507.4 L437.6,510.62 L434.38,507.4Z" fill="#231f20" stroke="#231f20" stroke-width="0.8"/>
<circle cx="317.5" cy="523.8" r="2.6" fill="#94b0da" stroke="#1a2f5a" stroke-width="1.2"/>
<circle cx="338.5" cy="518.4" r="2.6" fill="#94b0da" stroke="#1a2f5a" stroke-width="1.2"/>
<circle cx="360.5" cy="513.7" r="2.6" fill="#94b0da" stroke="#1a2f5a" stroke-width="1.2"/>
<circle cx="377" cy="509.7" r="2.6" fill="#94b0da" stroke="#1a2f5a" stroke-width="1.2"/>
<circle cx="398.8" cy="503.8" r="2.6" fill="#94b0da" stroke="#1a2f5a" stroke-width="1.2"/>
<circle cx="415.8" cy="502.3" r="2.6" fill="#94b0da" stroke="#1a2f5a" stroke-width="1.2"/>
<circle cx="437.6" cy="500.5" r="2.6" fill="#94b0da" stroke="#1a2f5a" stroke-width="1.2"/>
<rect x="315.02" y="521.32" width="4.97" height="4.97" rx="0.4" fill="#4d6aa6" stroke="#1a2a55" stroke-width="1.2"/>
<rect x="336.02" y="521.52" width="4.97" height="4.97" rx="0.4" fill="#4d6aa6" stroke="#1a2a55" stroke-width="1.2"/>
<rect x="358.02" y="514.52" width="4.97" height="4.97" rx="0.4" fill="#4d6aa6" stroke="#1a2a55" stroke-width="1.2"/>
<rect x="374.52" y="512.92" width="4.97" height="4.97" rx="0.4" fill="#4d6aa6" stroke="#1a2a55" stroke-width="1.2"/>
<rect x="396.32" y="504.52" width="4.97" height="4.97" rx="0.4" fill="#4d6aa6" stroke="#1a2a55" stroke-width="1.2"/>
<rect x="413.32" y="499.82" width="4.97" height="4.97" rx="0.4" fill="#4d6aa6" stroke="#1a2a55" stroke-width="1.2"/>
<rect x="435.12" y="495.22" width="4.97" height="4.97" rx="0.4" fill="#4d6aa6" stroke="#1a2a55" stroke-width="1.2"/>
<rect x="315.02" y="521.32" width="4.97" height="4.97" rx="0.4" fill="#d42038" stroke="#231f20" stroke-width="1.2"/>
<rect x="336.02" y="529.52" width="4.97" height="4.97" rx="0.4" fill="#d42038" stroke="#231f20" stroke-width="1.2"/>
<rect x="358.02" y="545.52" width="4.97" height="4.97" rx="0.4" fill="#d42038" stroke="#231f20" stroke-width="1.2"/>
<rect x="374.52" y="548.22" width="4.97" height="4.97" rx="0.4" fill="#d42038" stroke="#231f20" stroke-width="1.2"/>
<rect x="396.32" y="551.32" width="4.97" height="4.97" rx="0.4" fill="#d42038" stroke="#231f20" stroke-width="1.2"/>
<rect x="413.32" y="544.82" width="4.97" height="4.97" rx="0.4" fill="#d42038" stroke="#231f20" stroke-width="1.2"/>
<rect x="435.12" y="538.52" width="4.97" height="4.97" rx="0.4" fill="#d42038" stroke="#231f20" stroke-width="1.2"/>
<text x="443" y="497.9" font-size="9.8" fill="#000" font-weight="bold" textLength="10.4" lengthAdjust="spacingAndGlyphs" >ns</text>
<text x="443" y="504.8" font-size="9.8" fill="#000" font-weight="bold" textLength="10.4" lengthAdjust="spacingAndGlyphs" >ns</text>
<circle cx="444.7" cy="539" r="1.25" fill="#231f20"/>
<circle cx="448" cy="539" r="1.25" fill="#231f20"/>
<circle cx="451.3" cy="539" r="1.25" fill="#231f20"/>
<circle cx="454.6" cy="539" r="1.25" fill="#231f20"/>
<path d="M317.9,569.28 L322.3,569.28 L320.1,565.32Z" fill="#2a3a7a"/>
<path d="M317.7,577.36 L322.5,577.36 L320.1,573.04Z" fill="#cc2540"/>
<path d="M324.4,577.36 L329.2,577.36 L326.8,573.04Z" fill="#cc2540"/>
<path d="M331.3,577.36 L336.1,577.36 L333.7,573.04Z" fill="#cc2540"/>
<path d="M338.2,577.36 L343,577.36 L340.6,573.04Z" fill="#cc2540"/>
<line x1="463.8" y1="499.2" x2="471.5" y2="499.2" stroke="#231f20" stroke-width="1.4"/>
<path d="M464.3,499.2 L465.95,496.23 L469.25,496.23 L470.9,499.2 L469.25,502.17 L465.95,502.17Z" fill="#231f20"/>
<text x="473.5" y="501.7" font-size="7.2" fill="#282828" >NTD + vehicle</text>
<line x1="463.8" y1="511.5" x2="471.5" y2="511.5" stroke="#231f20" stroke-width="1.4"/>
<circle cx="467.6" cy="511.5" r="2.2" fill="#94b0da" stroke="#1a2f5a" stroke-width="1.2"/>
<text x="473.5" y="514" font-size="7.2" fill="#282828" >NTD + ritux.</text>
<line x1="463.8" y1="526" x2="471.5" y2="526" stroke="#231f20" stroke-width="1.4"/>
<rect x="465.07" y="523.47" width="5.06" height="5.06" rx="0.4" fill="#4d6aa6" stroke="#1a2a55" stroke-width="1.2"/>
<text x="473.5" y="528.5" font-size="7.2" fill="#282828" >CAR 23-QR3</text>
<text x="475.4" y="537" font-size="7.2" fill="#282828" >+ ritux.</text>
<line x1="463.8" y1="547.4" x2="471.5" y2="547.4" stroke="#231f20" stroke-width="1.4"/>
<rect x="465.07" y="544.87" width="5.06" height="5.06" rx="0.4" fill="#d42038" stroke="#231f20" stroke-width="1.2"/>
<text x="473.5" y="549.9" font-size="7.2" fill="#282828" >CAR 23-QR3</text>
<text x="475.4" y="558.4" font-size="7.2" fill="#282828" >+ vehicle.</text>
</svg></body></html>
